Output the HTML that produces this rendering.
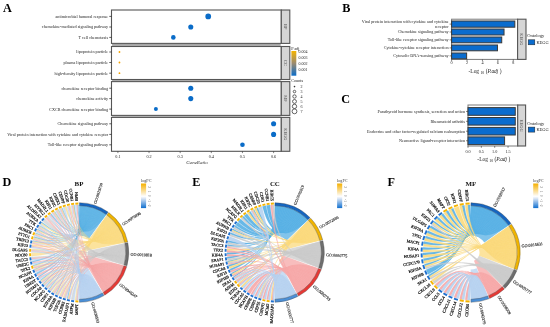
<!DOCTYPE html>
<html><head><meta charset="utf-8"><style>
html,body{margin:0;padding:0;background:#fff;overflow:hidden;width:550px;height:327px;}
svg{display:block;font-family:'Liberation Serif', serif;}
text.s{stroke:#111;stroke-width:0.2px;}
text.g{stroke:#222;stroke-width:0.12px;}
</style></head><body>
<svg width="550" height="327" viewBox="0 0 550 327">
<rect width="550" height="327" fill="#fff"/>
<text x="2.90" y="11.90" font-size="12.2" text-anchor="start" font-weight="bold" class="b" fill="#000" >A</text>
<rect x="111.5" y="10.0" width="169.8" height="33.4" fill="#fff" stroke="#555" stroke-width="1.1"/>
<rect x="281.3" y="10.0" width="8.5" height="33.4" fill="#d6d6d6" stroke="#555" stroke-width="1.1"/>
<text transform="translate(284.05,26.70) rotate(90)" font-size="4.4" text-anchor="middle" fill="#555" class="b">BP</text>
<line x1="109.3" y1="16.4" x2="111.5" y2="16.4" stroke="#333" stroke-width="0.8"/>
<text x="108.10" y="17.80" font-size="4.18" text-anchor="end" fill="#222" >antimicrobial humoral response</text>
<circle cx="208.21" cy="16.4" r="2.85" fill="#0a6cc8"/>
<line x1="109.3" y1="27.0" x2="111.5" y2="27.0" stroke="#333" stroke-width="0.8"/>
<text x="108.10" y="28.40" font-size="4.18" text-anchor="end" fill="#222" >chemokine-mediated signaling pathway</text>
<circle cx="190.77" cy="27.0" r="2.55" fill="#0a6cc8"/>
<line x1="109.3" y1="37.4" x2="111.5" y2="37.4" stroke="#333" stroke-width="0.8"/>
<text x="108.10" y="38.80" font-size="4.18" text-anchor="end" fill="#222" >T cell chemotaxis</text>
<circle cx="173.33" cy="37.4" r="2.3" fill="#0a6cc8"/>
<rect x="111.5" y="46.5" width="169.8" height="33.0" fill="#fff" stroke="#555" stroke-width="1.1"/>
<rect x="281.3" y="46.5" width="8.5" height="33.0" fill="#d6d6d6" stroke="#555" stroke-width="1.1"/>
<text transform="translate(284.05,63.00) rotate(90)" font-size="4.4" text-anchor="middle" fill="#555" class="b">CC</text>
<line x1="109.3" y1="52.0" x2="111.5" y2="52.0" stroke="#333" stroke-width="0.8"/>
<text x="108.10" y="53.40" font-size="4.18" text-anchor="end" fill="#222" >lipoprotein particle</text>
<circle cx="119.46" cy="52.0" r="0.9" fill="#f5a300"/>
<line x1="109.3" y1="62.5" x2="111.5" y2="62.5" stroke="#333" stroke-width="0.8"/>
<text x="108.10" y="63.90" font-size="4.18" text-anchor="end" fill="#222" >plasma lipoprotein particle</text>
<circle cx="119.46" cy="62.5" r="0.9" fill="#f5a300"/>
<line x1="109.3" y1="73.2" x2="111.5" y2="73.2" stroke="#333" stroke-width="0.8"/>
<text x="108.10" y="74.60" font-size="4.18" text-anchor="end" fill="#222" >high-density lipoprotein particle</text>
<circle cx="119.46" cy="73.2" r="0.9" fill="#f5a300"/>
<rect x="111.5" y="81.6" width="169.8" height="33.80000000000001" fill="#fff" stroke="#555" stroke-width="1.1"/>
<rect x="281.3" y="81.6" width="8.5" height="33.80000000000001" fill="#d6d6d6" stroke="#555" stroke-width="1.1"/>
<text transform="translate(284.05,98.50) rotate(90)" font-size="4.4" text-anchor="middle" fill="#555" class="b">MF</text>
<line x1="109.3" y1="88.2" x2="111.5" y2="88.2" stroke="#333" stroke-width="0.8"/>
<text x="108.10" y="89.60" font-size="4.18" text-anchor="end" fill="#222" >chemokine receptor binding</text>
<circle cx="190.77" cy="88.2" r="2.55" fill="#0a6cc8"/>
<line x1="109.3" y1="98.6" x2="111.5" y2="98.6" stroke="#333" stroke-width="0.8"/>
<text x="108.10" y="100.00" font-size="4.18" text-anchor="end" fill="#222" >chemokine activity</text>
<circle cx="190.77" cy="98.6" r="2.55" fill="#0a6cc8"/>
<line x1="109.3" y1="109.1" x2="111.5" y2="109.1" stroke="#333" stroke-width="0.8"/>
<text x="108.10" y="110.50" font-size="4.18" text-anchor="end" fill="#222" >CXCR chemokine receptor binding</text>
<circle cx="155.89" cy="109.1" r="2.0" fill="#0a6cc8"/>
<rect x="111.5" y="117.4" width="169.8" height="33.900000000000006" fill="#fff" stroke="#555" stroke-width="1.1"/>
<rect x="281.3" y="117.4" width="8.5" height="33.900000000000006" fill="#d6d6d6" stroke="#555" stroke-width="1.1"/>
<text transform="translate(284.05,134.35) rotate(90)" font-size="4.4" text-anchor="middle" fill="#555" class="b">KEGG</text>
<line x1="109.3" y1="123.8" x2="111.5" y2="123.8" stroke="#333" stroke-width="0.8"/>
<text x="108.10" y="125.20" font-size="4.18" text-anchor="end" fill="#222" >Chemokine signaling pathway</text>
<circle cx="273.60" cy="123.8" r="2.55" fill="#0a6cc8"/>
<line x1="109.3" y1="134.4" x2="111.5" y2="134.4" stroke="#333" stroke-width="0.8"/>
<text x="108.10" y="135.80" font-size="4.18" text-anchor="end" fill="#222" >Viral protein interaction with cytokine and cytokine receptor</text>
<circle cx="273.60" cy="134.4" r="2.55" fill="#0a6cc8"/>
<line x1="109.3" y1="144.8" x2="111.5" y2="144.8" stroke="#333" stroke-width="0.8"/>
<text x="108.10" y="146.20" font-size="4.18" text-anchor="end" fill="#222" >Toll-like receptor signaling pathway</text>
<circle cx="242.46" cy="144.8" r="2.3" fill="#0a6cc8"/>
<rect x="112.1" y="43.949999999999996" width="168.60000000000002" height="2.0000000000000013" fill="#a6a6a6"/>
<rect x="112.1" y="80.05" width="168.60000000000002" height="0.9999999999999942" fill="#a6a6a6"/>
<rect x="112.1" y="115.95" width="168.60000000000002" height="0.8999999999999999" fill="#a6a6a6"/>
<line x1="117.90" y1="151.3" x2="117.90" y2="153.1" stroke="#333" stroke-width="0.6"/>
<text x="117.90" y="158.00" font-size="4.2" text-anchor="middle" fill="#222" >0.1</text>
<line x1="149.04" y1="151.3" x2="149.04" y2="153.1" stroke="#333" stroke-width="0.6"/>
<text x="149.04" y="158.00" font-size="4.2" text-anchor="middle" fill="#222" >0.2</text>
<line x1="180.18" y1="151.3" x2="180.18" y2="153.1" stroke="#333" stroke-width="0.6"/>
<text x="180.18" y="158.00" font-size="4.2" text-anchor="middle" fill="#222" >0.3</text>
<line x1="211.32" y1="151.3" x2="211.32" y2="153.1" stroke="#333" stroke-width="0.6"/>
<text x="211.32" y="158.00" font-size="4.2" text-anchor="middle" fill="#222" >0.4</text>
<line x1="242.46" y1="151.3" x2="242.46" y2="153.1" stroke="#333" stroke-width="0.6"/>
<text x="242.46" y="158.00" font-size="4.2" text-anchor="middle" fill="#222" >0.5</text>
<line x1="273.60" y1="151.3" x2="273.60" y2="153.1" stroke="#333" stroke-width="0.6"/>
<text x="273.60" y="158.00" font-size="4.2" text-anchor="middle" fill="#222" >0.6</text>
<text x="197.00" y="163.90" font-size="5.0" text-anchor="middle" font-style="italic" fill="#333" >GeneRatio</text>
<defs><linearGradient id="padj" x1="0" y1="0" x2="0" y2="1"><stop offset="0" stop-color="#f5b400"/><stop offset="0.5" stop-color="#9a8a70"/><stop offset="1" stop-color="#0a6cc8"/></linearGradient><linearGradient id="lfc" x1="0" y1="0" x2="0" y2="1"><stop offset="0" stop-color="#f5b000"/><stop offset="0.45" stop-color="#fdf3dc"/><stop offset="0.52" stop-color="#ffffff"/><stop offset="0.6" stop-color="#dfe8f6"/><stop offset="1" stop-color="#0f6fcf"/></linearGradient></defs>
<text x="291.20" y="49.60" font-size="4.2" text-anchor="start" fill="#222" >P adj</text>
<rect x="291.4" y="51" width="4.9" height="24.7" fill="url(#padj)"/>
<text x="298.60" y="52.90" font-size="4.0" text-anchor="start" fill="#222" >0.004</text>
<text x="298.60" y="58.95" font-size="4.0" text-anchor="start" fill="#222" >0.003</text>
<text x="298.60" y="65.00" font-size="4.0" text-anchor="start" fill="#222" >0.002</text>
<text x="298.60" y="71.05" font-size="4.0" text-anchor="start" fill="#222" >0.001</text>
<text x="291.20" y="82.30" font-size="4.2" text-anchor="start" fill="#222" >Counts</text>
<circle cx="294.5" cy="86.60" r="0.8" fill="#333"/>
<text x="300.50" y="88.00" font-size="4.0" text-anchor="start" fill="#222" >2</text>
<circle cx="294.5" cy="91.55" r="1.27" fill="none" stroke="#333" stroke-width="0.75"/>
<text x="300.50" y="92.95" font-size="4.0" text-anchor="start" fill="#222" >3</text>
<circle cx="294.5" cy="96.50" r="1.70" fill="none" stroke="#333" stroke-width="0.75"/>
<text x="300.50" y="97.90" font-size="4.0" text-anchor="start" fill="#222" >4</text>
<circle cx="294.5" cy="101.45" r="1.95" fill="none" stroke="#333" stroke-width="0.75"/>
<text x="300.50" y="102.85" font-size="4.0" text-anchor="start" fill="#222" >5</text>
<circle cx="294.5" cy="106.40" r="2.17" fill="none" stroke="#333" stroke-width="0.75"/>
<text x="300.50" y="107.80" font-size="4.0" text-anchor="start" fill="#222" >6</text>
<circle cx="294.5" cy="111.35" r="2.42" fill="none" stroke="#333" stroke-width="0.75"/>
<text x="300.50" y="112.75" font-size="4.0" text-anchor="start" fill="#222" >7</text>
<text x="342.20" y="12.20" font-size="12.2" text-anchor="start" font-weight="bold" class="b" fill="#000" >B</text>
<rect x="451.6" y="19.2" width="66.0" height="40.2" fill="#fff" stroke="#7a7a7a" stroke-width="1.0"/>
<rect x="517.6" y="19.2" width="8.399999999999977" height="40.2" fill="#d6d6d6" stroke="#555" stroke-width="1.1"/>
<text transform="translate(520.30,39.30) rotate(90)" font-size="4.4" text-anchor="middle" fill="#555" class="b">KEGG</text>
<rect x="451.6" y="21.0" width="63.22" height="6.199999999999999" fill="#0a6cce" stroke="#3a3a3a" stroke-width="1.0"/>
<line x1="449.6" y1="24.1" x2="451.6" y2="24.1" stroke="#333" stroke-width="0.6"/>
<text x="448.60" y="23.30" font-size="4.2" text-anchor="end" fill="#222" >Viral protein interaction with cytokine and cytokine</text>
<text x="448.60" y="27.50" font-size="4.2" text-anchor="end" fill="#222" >receptor</text>
<rect x="451.6" y="29.0" width="52.43" height="6.0" fill="#0a6cce" stroke="#3a3a3a" stroke-width="1.0"/>
<line x1="449.6" y1="32.0" x2="451.6" y2="32.0" stroke="#333" stroke-width="0.6"/>
<text x="448.60" y="33.40" font-size="4.2" text-anchor="end" fill="#222" >Chemokine signaling pathway</text>
<rect x="451.6" y="37.0" width="50.12" height="5.799999999999997" fill="#0a6cce" stroke="#3a3a3a" stroke-width="1.0"/>
<line x1="449.6" y1="39.9" x2="451.6" y2="39.9" stroke="#333" stroke-width="0.6"/>
<text x="448.60" y="41.30" font-size="4.2" text-anchor="end" fill="#222" >Toll-like receptor signaling pathway</text>
<rect x="451.6" y="45.0" width="45.87" height="5.799999999999997" fill="#0a6cce" stroke="#3a3a3a" stroke-width="1.0"/>
<line x1="449.6" y1="47.9" x2="451.6" y2="47.9" stroke="#333" stroke-width="0.6"/>
<text x="448.60" y="49.30" font-size="4.2" text-anchor="end" fill="#222" >Cytokine-cytokine receptor interaction</text>
<rect x="451.6" y="53.0" width="15.03" height="5.799999999999997" fill="#0a6cce" stroke="#3a3a3a" stroke-width="1.0"/>
<line x1="449.6" y1="55.9" x2="451.6" y2="55.9" stroke="#333" stroke-width="0.6"/>
<text x="448.60" y="57.30" font-size="4.2" text-anchor="end" fill="#222" >Cytosolic DNA-sensing pathway</text>
<line x1="451.60" y1="59.4" x2="451.60" y2="61.199999999999996" stroke="#333" stroke-width="0.6"/>
<text x="451.60" y="64.40" font-size="4.2" text-anchor="middle" fill="#222" >0</text>
<line x1="467.02" y1="59.4" x2="467.02" y2="61.199999999999996" stroke="#333" stroke-width="0.6"/>
<text x="467.02" y="64.40" font-size="4.2" text-anchor="middle" fill="#222" >2</text>
<line x1="482.44" y1="59.4" x2="482.44" y2="61.199999999999996" stroke="#333" stroke-width="0.6"/>
<text x="482.44" y="64.40" font-size="4.2" text-anchor="middle" fill="#222" >4</text>
<line x1="497.86" y1="59.4" x2="497.86" y2="61.199999999999996" stroke="#333" stroke-width="0.6"/>
<text x="497.86" y="64.40" font-size="4.2" text-anchor="middle" fill="#222" >6</text>
<line x1="513.28" y1="59.4" x2="513.28" y2="61.199999999999996" stroke="#333" stroke-width="0.6"/>
<text x="513.28" y="64.40" font-size="4.2" text-anchor="middle" fill="#222" >8</text>
<text x="485.0" y="73.0" font-size="5.4" text-anchor="middle" fill="#222">-Log <tspan font-size="3.9" dy="1.4">10</tspan><tspan dy="-1.4"> (</tspan><tspan font-style="italic">P.adj</tspan> )</text>
<text x="527.20" y="37.20" font-size="4.5" text-anchor="start" fill="#222" >Ontology</text>
<rect x="528.2" y="39.800000000000004" width="6.6" height="5" fill="#0a6cce" stroke="#222" stroke-width="0.5"/>
<text x="536.40" y="43.90" font-size="4.4" text-anchor="start" fill="#222" >KEGG</text>
<text x="341.20" y="102.80" font-size="12.2" text-anchor="start" font-weight="bold" class="b" fill="#000" >C</text>
<rect x="468.0" y="105.0" width="49.700000000000045" height="41.0" fill="#fff" stroke="#7a7a7a" stroke-width="1.0"/>
<rect x="517.7" y="105.0" width="7.899999999999977" height="41.0" fill="#d6d6d6" stroke="#555" stroke-width="1.1"/>
<text transform="translate(520.15,125.50) rotate(90)" font-size="4.4" text-anchor="middle" fill="#555" class="b">KEGG</text>
<rect x="468.0" y="107.6" width="47.26" height="7.700000000000003" fill="#0a6cce" stroke="#3a3a3a" stroke-width="1.0"/>
<line x1="466.0" y1="111.44999999999999" x2="468.0" y2="111.44999999999999" stroke="#333" stroke-width="0.6"/>
<text x="465.00" y="112.85" font-size="4.2" text-anchor="end" fill="#222" >Parathyroid hormone synthesis, secretion and action</text>
<rect x="468.0" y="117.5" width="47.26" height="7.599999999999994" fill="#0a6cce" stroke="#3a3a3a" stroke-width="1.0"/>
<line x1="466.0" y1="121.3" x2="468.0" y2="121.3" stroke="#333" stroke-width="0.6"/>
<text x="465.00" y="122.70" font-size="4.2" text-anchor="end" fill="#222" >Rheumatoid arthritis</text>
<rect x="468.0" y="127.4" width="47.26" height="7.599999999999994" fill="#0a6cce" stroke="#3a3a3a" stroke-width="1.0"/>
<line x1="466.0" y1="131.2" x2="468.0" y2="131.2" stroke="#333" stroke-width="0.6"/>
<text x="465.00" y="132.60" font-size="4.2" text-anchor="end" fill="#222" >Endocrine and other factor-regulated calcium reabsorption</text>
<rect x="468.0" y="136.9" width="36.58" height="7.699999999999989" fill="#0a6cce" stroke="#3a3a3a" stroke-width="1.0"/>
<line x1="466.0" y1="140.75" x2="468.0" y2="140.75" stroke="#333" stroke-width="0.6"/>
<text x="465.00" y="142.15" font-size="4.2" text-anchor="end" fill="#222" >Neuroactive ligand-receptor interaction</text>
<line x1="468.00" y1="146.0" x2="468.00" y2="147.8" stroke="#333" stroke-width="0.6"/>
<text x="468.00" y="153.40" font-size="4.2" text-anchor="middle" fill="#222" >0.0</text>
<line x1="481.35" y1="146.0" x2="481.35" y2="147.8" stroke="#333" stroke-width="0.6"/>
<text x="481.35" y="153.40" font-size="4.2" text-anchor="middle" fill="#222" >0.5</text>
<line x1="494.70" y1="146.0" x2="494.70" y2="147.8" stroke="#333" stroke-width="0.6"/>
<text x="494.70" y="153.40" font-size="4.2" text-anchor="middle" fill="#222" >1.0</text>
<line x1="508.05" y1="146.0" x2="508.05" y2="147.8" stroke="#333" stroke-width="0.6"/>
<text x="508.05" y="153.40" font-size="4.2" text-anchor="middle" fill="#222" >1.5</text>
<text x="493.8" y="160.8" font-size="5.4" text-anchor="middle" fill="#222">-Log <tspan font-size="3.9" dy="1.4">10</tspan><tspan dy="-1.4"> (</tspan><tspan font-style="italic">P.adj</tspan> )</text>
<text x="527.20" y="124.50" font-size="4.5" text-anchor="start" fill="#222" >Ontology</text>
<rect x="528.2" y="127.1" width="6.6" height="5" fill="#0a6cce" stroke="#222" stroke-width="0.5"/>
<text x="536.40" y="131.20" font-size="4.4" text-anchor="start" fill="#222" >KEGG</text>
<text x="2.40" y="186.30" font-size="12.2" text-anchor="start" font-weight="bold" class="b" fill="#000" >D</text>
<text x="74.60" y="185.60" font-size="6.9" text-anchor="start" font-weight="bold" class="b" fill="#111" >BP</text>
<path d="M79.41,205.70 A46.8,46.8 0 0 1 106.31,214.49 L88.92,238.69 A17.0,17.0 0 0 0 79.15,235.50Z" fill="#58b0e4" fill-opacity="0.75"/>
<path d="M106.97,214.98 A46.8,46.8 0 0 1 124.73,242.53 L87.79,250.58 A9.0,9.0 0 0 0 84.38,245.28Z" fill="#fbd97c" fill-opacity="0.75"/>
<path d="M124.89,243.33 A46.8,46.8 0 0 1 124.12,264.93 L87.68,254.89 A9.0,9.0 0 0 0 87.83,250.74Z" fill="#cbcbcb" fill-opacity="0.75"/>
<path d="M123.90,265.71 A46.8,46.8 0 0 1 103.17,292.57 L83.65,260.21 A9.0,9.0 0 0 0 87.63,255.04Z" fill="#f6a7a7" fill-opacity="0.75"/>
<path d="M102.47,292.99 A46.8,46.8 0 0 1 79.41,299.30 L79.15,269.50 A17.0,17.0 0 0 0 87.53,267.21Z" fill="#b6d1f0" fill-opacity="0.75"/>
<path d="M67.04,298.57 Q79.00,252.50 80.66,205.73 A46.80,46.80 0 0 0 79.41,205.70 Q79.00,252.50 67.87,298.78 A47.60,47.60 0 0 1 67.04,298.57Z" fill="#58b0e4" fill-opacity="0.65" stroke="#58b0e4" stroke-opacity="0.65" stroke-width="0.3"/>
<path d="M55.52,293.91 Q79.00,252.50 81.91,205.79 A46.80,46.80 0 0 0 80.66,205.73 Q79.00,252.50 56.12,294.24 A47.60,47.60 0 0 1 55.52,293.91Z" fill="#58b0e4" fill-opacity="0.65" stroke="#58b0e4" stroke-opacity="0.65" stroke-width="0.3"/>
<path d="M48.69,289.20 Q79.00,252.50 83.15,205.88 A46.80,46.80 0 0 0 81.91,205.79 Q79.00,252.50 49.22,289.63 A47.60,47.60 0 0 1 48.69,289.20Z" fill="#58b0e4" fill-opacity="0.65" stroke="#58b0e4" stroke-opacity="0.65" stroke-width="0.3"/>
<path d="M45.61,286.42 Q79.00,252.50 84.40,206.01 A46.80,46.80 0 0 0 83.15,205.88 Q79.00,252.50 46.10,286.90 A47.60,47.60 0 0 1 45.61,286.42Z" fill="#58b0e4" fill-opacity="0.65" stroke="#58b0e4" stroke-opacity="0.65" stroke-width="0.3"/>
<path d="M42.78,283.38 Q79.00,252.50 85.64,206.17 A46.80,46.80 0 0 0 84.40,206.01 Q79.00,252.50 43.22,283.90 A47.60,47.60 0 0 1 42.78,283.38Z" fill="#58b0e4" fill-opacity="0.65" stroke="#58b0e4" stroke-opacity="0.65" stroke-width="0.3"/>
<path d="M40.22,280.11 Q79.00,252.50 86.87,206.37 A46.80,46.80 0 0 0 85.64,206.17 Q79.00,252.50 40.72,280.80 A47.60,47.60 0 0 1 40.22,280.11Z" fill="#58b0e4" fill-opacity="0.65" stroke="#58b0e4" stroke-opacity="0.65" stroke-width="0.3"/>
<path d="M37.97,276.62 Q79.00,252.50 88.10,206.59 A46.80,46.80 0 0 0 86.87,206.37 Q79.00,252.50 38.55,277.59 A47.60,47.60 0 0 1 37.97,276.62Z" fill="#58b0e4" fill-opacity="0.65" stroke="#58b0e4" stroke-opacity="0.65" stroke-width="0.3"/>
<path d="M36.02,272.95 Q79.00,252.50 89.32,206.85 A46.80,46.80 0 0 0 88.10,206.59 Q79.00,252.50 36.78,274.48 A47.60,47.60 0 0 1 36.02,272.95Z" fill="#58b0e4" fill-opacity="0.65" stroke="#58b0e4" stroke-opacity="0.65" stroke-width="0.3"/>
<path d="M34.40,269.13 Q79.00,252.50 90.54,207.14 A46.80,46.80 0 0 0 89.32,206.85 Q79.00,252.50 34.64,269.77 A47.60,47.60 0 0 1 34.40,269.13Z" fill="#58b0e4" fill-opacity="0.65" stroke="#58b0e4" stroke-opacity="0.65" stroke-width="0.3"/>
<path d="M33.12,265.18 Q79.00,252.50 91.75,207.47 A46.80,46.80 0 0 0 90.54,207.14 Q79.00,252.50 33.35,266.00 A47.60,47.60 0 0 1 33.12,265.18Z" fill="#58b0e4" fill-opacity="0.65" stroke="#58b0e4" stroke-opacity="0.65" stroke-width="0.3"/>
<path d="M32.19,261.13 Q79.00,252.50 92.94,207.83 A46.80,46.80 0 0 0 91.75,207.47 Q79.00,252.50 32.41,262.25 A47.60,47.60 0 0 1 32.19,261.13Z" fill="#58b0e4" fill-opacity="0.65" stroke="#58b0e4" stroke-opacity="0.65" stroke-width="0.3"/>
<path d="M32.93,240.54 Q79.00,252.50 94.13,208.21 A46.80,46.80 0 0 0 92.94,207.83 Q79.00,252.50 32.72,241.37 A47.60,47.60 0 0 1 32.93,240.54Z" fill="#58b0e4" fill-opacity="0.65" stroke="#58b0e4" stroke-opacity="0.65" stroke-width="0.3"/>
<path d="M34.14,236.57 Q79.00,252.50 95.31,208.63 A46.80,46.80 0 0 0 94.13,208.21 Q79.00,252.50 33.87,237.38 A47.60,47.60 0 0 1 34.14,236.57Z" fill="#58b0e4" fill-opacity="0.65" stroke="#58b0e4" stroke-opacity="0.65" stroke-width="0.3"/>
<path d="M35.70,232.72 Q79.00,252.50 96.48,209.09 A46.80,46.80 0 0 0 95.31,208.63 Q79.00,252.50 35.36,233.50 A47.60,47.60 0 0 1 35.70,232.72Z" fill="#58b0e4" fill-opacity="0.65" stroke="#58b0e4" stroke-opacity="0.65" stroke-width="0.3"/>
<path d="M37.59,229.02 Q79.00,252.50 97.63,209.57 A46.80,46.80 0 0 0 96.48,209.09 Q79.00,252.50 37.18,229.77 A47.60,47.60 0 0 1 37.59,229.02Z" fill="#58b0e4" fill-opacity="0.65" stroke="#58b0e4" stroke-opacity="0.65" stroke-width="0.3"/>
<path d="M39.80,225.50 Q79.00,252.50 98.77,210.08 A46.80,46.80 0 0 0 97.63,209.57 Q79.00,252.50 39.41,226.07 A47.60,47.60 0 0 1 39.80,225.50Z" fill="#58b0e4" fill-opacity="0.65" stroke="#58b0e4" stroke-opacity="0.65" stroke-width="0.3"/>
<path d="M42.30,222.19 Q79.00,252.50 99.89,210.62 A46.80,46.80 0 0 0 98.77,210.08 Q79.00,252.50 41.58,223.07 A47.60,47.60 0 0 1 42.30,222.19Z" fill="#58b0e4" fill-opacity="0.65" stroke="#58b0e4" stroke-opacity="0.65" stroke-width="0.3"/>
<path d="M51.39,213.72 Q79.00,252.50 101.01,211.20 A46.80,46.80 0 0 0 99.89,210.62 Q79.00,252.50 50.48,214.39 A47.60,47.60 0 0 1 51.39,213.72Z" fill="#58b0e4" fill-opacity="0.65" stroke="#58b0e4" stroke-opacity="0.65" stroke-width="0.3"/>
<path d="M54.88,211.47 Q79.00,252.50 102.10,211.80 A46.80,46.80 0 0 0 101.01,211.20 Q79.00,252.50 54.29,211.81 A47.60,47.60 0 0 1 54.88,211.47Z" fill="#58b0e4" fill-opacity="0.65" stroke="#58b0e4" stroke-opacity="0.65" stroke-width="0.3"/>
<path d="M58.55,209.52 Q79.00,252.50 103.18,212.43 A46.80,46.80 0 0 0 102.10,211.80 Q79.00,252.50 57.93,209.82 A47.60,47.60 0 0 1 58.55,209.52Z" fill="#58b0e4" fill-opacity="0.65" stroke="#58b0e4" stroke-opacity="0.65" stroke-width="0.3"/>
<path d="M62.37,207.90 Q79.00,252.50 104.24,213.09 A46.80,46.80 0 0 0 103.18,212.43 Q79.00,252.50 61.57,208.20 A47.60,47.60 0 0 1 62.37,207.90Z" fill="#58b0e4" fill-opacity="0.65" stroke="#58b0e4" stroke-opacity="0.65" stroke-width="0.3"/>
<path d="M74.48,205.12 Q79.00,252.50 105.28,213.78 A46.80,46.80 0 0 0 104.24,213.09 Q79.00,252.50 73.63,205.20 A47.60,47.60 0 0 1 74.48,205.12Z" fill="#58b0e4" fill-opacity="0.65" stroke="#58b0e4" stroke-opacity="0.65" stroke-width="0.3"/>
<path d="M78.63,204.90 Q79.00,252.50 106.31,214.49 A46.80,46.80 0 0 0 105.28,213.78 Q79.00,252.50 77.49,204.92 A47.60,47.60 0 0 1 78.63,204.90Z" fill="#58b0e4" fill-opacity="0.65" stroke="#58b0e4" stroke-opacity="0.65" stroke-width="0.3"/>
<path d="M75.22,299.95 Q79.00,252.50 107.95,215.73 A46.80,46.80 0 0 0 106.97,214.98 Q79.00,252.50 76.07,300.01 A47.60,47.60 0 0 1 75.22,299.95Z" fill="#fbd97c" fill-opacity="0.65" stroke="#fbd97c" stroke-opacity="0.65" stroke-width="0.3"/>
<path d="M67.87,298.78 Q79.00,252.50 108.92,216.51 A46.80,46.80 0 0 0 107.95,215.73 Q79.00,252.50 68.70,298.97 A47.60,47.60 0 0 1 67.87,298.78Z" fill="#fbd97c" fill-opacity="0.65" stroke="#fbd97c" stroke-opacity="0.65" stroke-width="0.3"/>
<path d="M63.07,297.36 Q79.00,252.50 109.86,217.32 A46.80,46.80 0 0 0 108.92,216.51 Q79.00,252.50 63.88,297.63 A47.60,47.60 0 0 1 63.07,297.36Z" fill="#fbd97c" fill-opacity="0.65" stroke="#fbd97c" stroke-opacity="0.65" stroke-width="0.3"/>
<path d="M59.22,295.80 Q79.00,252.50 110.78,218.15 A46.80,46.80 0 0 0 109.86,217.32 Q79.00,252.50 60.26,296.26 A47.60,47.60 0 0 1 59.22,295.80Z" fill="#fbd97c" fill-opacity="0.65" stroke="#fbd97c" stroke-opacity="0.65" stroke-width="0.3"/>
<path d="M56.12,294.24 Q79.00,252.50 111.68,219.00 A46.80,46.80 0 0 0 110.78,218.15 Q79.00,252.50 56.72,294.56 A47.60,47.60 0 0 1 56.12,294.24Z" fill="#fbd97c" fill-opacity="0.65" stroke="#fbd97c" stroke-opacity="0.65" stroke-width="0.3"/>
<path d="M52.00,291.70 Q79.00,252.50 112.56,219.88 A46.80,46.80 0 0 0 111.68,219.00 Q79.00,252.50 52.95,292.34 A47.60,47.60 0 0 1 52.00,291.70Z" fill="#fbd97c" fill-opacity="0.65" stroke="#fbd97c" stroke-opacity="0.65" stroke-width="0.3"/>
<path d="M49.22,289.63 Q79.00,252.50 113.41,220.78 A46.80,46.80 0 0 0 112.56,219.88 Q79.00,252.50 49.75,290.06 A47.60,47.60 0 0 1 49.22,289.63Z" fill="#fbd97c" fill-opacity="0.65" stroke="#fbd97c" stroke-opacity="0.65" stroke-width="0.3"/>
<path d="M46.10,286.90 Q79.00,252.50 114.24,221.70 A46.80,46.80 0 0 0 113.41,220.78 Q79.00,252.50 46.59,287.36 A47.60,47.60 0 0 1 46.10,286.90Z" fill="#fbd97c" fill-opacity="0.65" stroke="#fbd97c" stroke-opacity="0.65" stroke-width="0.3"/>
<path d="M43.22,283.90 Q79.00,252.50 115.04,222.65 A46.80,46.80 0 0 0 114.24,221.70 Q79.00,252.50 43.68,284.41 A47.60,47.60 0 0 1 43.22,283.90Z" fill="#fbd97c" fill-opacity="0.65" stroke="#fbd97c" stroke-opacity="0.65" stroke-width="0.3"/>
<path d="M40.72,280.80 Q79.00,252.50 115.82,223.61 A46.80,46.80 0 0 0 115.04,222.65 Q79.00,252.50 41.24,281.48 A47.60,47.60 0 0 1 40.72,280.80Z" fill="#fbd97c" fill-opacity="0.65" stroke="#fbd97c" stroke-opacity="0.65" stroke-width="0.3"/>
<path d="M34.64,269.77 Q79.00,252.50 116.57,224.60 A46.80,46.80 0 0 0 115.82,223.61 Q79.00,252.50 34.89,270.40 A47.60,47.60 0 0 1 34.64,269.77Z" fill="#fbd97c" fill-opacity="0.65" stroke="#fbd97c" stroke-opacity="0.65" stroke-width="0.3"/>
<path d="M33.35,266.00 Q79.00,252.50 117.30,225.60 A46.80,46.80 0 0 0 116.57,224.60 Q79.00,252.50 33.60,266.81 A47.60,47.60 0 0 1 33.35,266.00Z" fill="#fbd97c" fill-opacity="0.65" stroke="#fbd97c" stroke-opacity="0.65" stroke-width="0.3"/>
<path d="M31.40,252.87 Q79.00,252.50 118.00,226.63 A46.80,46.80 0 0 0 117.30,225.60 Q79.00,252.50 31.55,256.28 A47.60,47.60 0 0 1 31.40,252.87Z" fill="#fbd97c" fill-opacity="0.65" stroke="#fbd97c" stroke-opacity="0.65" stroke-width="0.3"/>
<path d="M31.55,248.72 Q79.00,252.50 118.67,227.67 A46.80,46.80 0 0 0 118.00,226.63 Q79.00,252.50 31.49,249.57 A47.60,47.60 0 0 1 31.55,248.72Z" fill="#fbd97c" fill-opacity="0.65" stroke="#fbd97c" stroke-opacity="0.65" stroke-width="0.3"/>
<path d="M32.06,244.60 Q79.00,252.50 119.32,228.73 A46.80,46.80 0 0 0 118.67,227.67 Q79.00,252.50 31.88,245.72 A47.60,47.60 0 0 1 32.06,244.60Z" fill="#fbd97c" fill-opacity="0.65" stroke="#fbd97c" stroke-opacity="0.65" stroke-width="0.3"/>
<path d="M32.72,241.37 Q79.00,252.50 119.93,229.81 A46.80,46.80 0 0 0 119.32,228.73 Q79.00,252.50 32.53,242.20 A47.60,47.60 0 0 1 32.72,241.37Z" fill="#fbd97c" fill-opacity="0.65" stroke="#fbd97c" stroke-opacity="0.65" stroke-width="0.3"/>
<path d="M33.87,237.38 Q79.00,252.50 120.52,230.90 A46.80,46.80 0 0 0 119.93,229.81 Q79.00,252.50 33.60,238.19 A47.60,47.60 0 0 1 33.87,237.38Z" fill="#fbd97c" fill-opacity="0.65" stroke="#fbd97c" stroke-opacity="0.65" stroke-width="0.3"/>
<path d="M35.36,233.50 Q79.00,252.50 121.08,232.01 A46.80,46.80 0 0 0 120.52,230.90 Q79.00,252.50 35.02,234.28 A47.60,47.60 0 0 1 35.36,233.50Z" fill="#fbd97c" fill-opacity="0.65" stroke="#fbd97c" stroke-opacity="0.65" stroke-width="0.3"/>
<path d="M37.18,229.77 Q79.00,252.50 121.60,233.13 A46.80,46.80 0 0 0 121.08,232.01 Q79.00,252.50 36.78,230.52 A47.60,47.60 0 0 1 37.18,229.77Z" fill="#fbd97c" fill-opacity="0.65" stroke="#fbd97c" stroke-opacity="0.65" stroke-width="0.3"/>
<path d="M39.41,226.07 Q79.00,252.50 122.10,234.27 A46.80,46.80 0 0 0 121.60,233.13 Q79.00,252.50 39.04,226.64 A47.60,47.60 0 0 1 39.41,226.07Z" fill="#fbd97c" fill-opacity="0.65" stroke="#fbd97c" stroke-opacity="0.65" stroke-width="0.3"/>
<path d="M41.58,223.07 Q79.00,252.50 122.57,235.42 A46.80,46.80 0 0 0 122.10,234.27 Q79.00,252.50 40.89,223.98 A47.60,47.60 0 0 1 41.58,223.07Z" fill="#fbd97c" fill-opacity="0.65" stroke="#fbd97c" stroke-opacity="0.65" stroke-width="0.3"/>
<path d="M54.29,211.81 Q79.00,252.50 123.01,236.58 A46.80,46.80 0 0 0 122.57,235.42 Q79.00,252.50 53.71,212.17 A47.60,47.60 0 0 1 54.29,211.81Z" fill="#fbd97c" fill-opacity="0.65" stroke="#fbd97c" stroke-opacity="0.65" stroke-width="0.3"/>
<path d="M57.93,209.82 Q79.00,252.50 123.41,237.75 A46.80,46.80 0 0 0 123.01,236.58 Q79.00,252.50 57.32,210.12 A47.60,47.60 0 0 1 57.93,209.82Z" fill="#fbd97c" fill-opacity="0.65" stroke="#fbd97c" stroke-opacity="0.65" stroke-width="0.3"/>
<path d="M61.57,208.20 Q79.00,252.50 123.79,238.93 A46.80,46.80 0 0 0 123.41,237.75 Q79.00,252.50 60.78,208.52 A47.60,47.60 0 0 1 61.57,208.20Z" fill="#fbd97c" fill-opacity="0.65" stroke="#fbd97c" stroke-opacity="0.65" stroke-width="0.3"/>
<path d="M66.32,206.62 Q79.00,252.50 124.13,240.12 A46.80,46.80 0 0 0 123.79,238.93 Q79.00,252.50 64.69,207.10 A47.60,47.60 0 0 1 66.32,206.62Z" fill="#fbd97c" fill-opacity="0.65" stroke="#fbd97c" stroke-opacity="0.65" stroke-width="0.3"/>
<path d="M70.37,205.69 Q79.00,252.50 124.45,241.32 A46.80,46.80 0 0 0 124.13,240.12 Q79.00,252.50 69.25,205.91 A47.60,47.60 0 0 1 70.37,205.69Z" fill="#fbd97c" fill-opacity="0.65" stroke="#fbd97c" stroke-opacity="0.65" stroke-width="0.3"/>
<path d="M73.63,205.20 Q79.00,252.50 124.73,242.53 A46.80,46.80 0 0 0 124.45,241.32 Q79.00,252.50 72.79,205.31 A47.60,47.60 0 0 1 73.63,205.20Z" fill="#fbd97c" fill-opacity="0.65" stroke="#fbd97c" stroke-opacity="0.65" stroke-width="0.3"/>
<path d="M76.07,300.01 Q79.00,252.50 125.08,244.35 A46.80,46.80 0 0 0 124.89,243.33 Q79.00,252.50 76.92,300.05 A47.60,47.60 0 0 1 76.07,300.01Z" fill="#cbcbcb" fill-opacity="0.65" stroke="#cbcbcb" stroke-opacity="0.65" stroke-width="0.3"/>
<path d="M71.10,299.44 Q79.00,252.50 125.25,245.37 A46.80,46.80 0 0 0 125.08,244.35 Q79.00,252.50 72.79,299.69 A47.60,47.60 0 0 1 71.10,299.44Z" fill="#cbcbcb" fill-opacity="0.65" stroke="#cbcbcb" stroke-opacity="0.65" stroke-width="0.3"/>
<path d="M63.88,297.63 Q79.00,252.50 125.40,246.40 A46.80,46.80 0 0 0 125.25,245.37 Q79.00,252.50 64.69,297.90 A47.60,47.60 0 0 1 63.88,297.63Z" fill="#cbcbcb" fill-opacity="0.65" stroke="#cbcbcb" stroke-opacity="0.65" stroke-width="0.3"/>
<path d="M60.26,296.26 Q79.00,252.50 125.53,247.43 A46.80,46.80 0 0 0 125.40,246.40 Q79.00,252.50 61.31,296.69 A47.60,47.60 0 0 1 60.26,296.26Z" fill="#cbcbcb" fill-opacity="0.65" stroke="#cbcbcb" stroke-opacity="0.65" stroke-width="0.3"/>
<path d="M56.72,294.56 Q79.00,252.50 125.63,248.47 A46.80,46.80 0 0 0 125.53,247.43 Q79.00,252.50 57.32,294.88 A47.60,47.60 0 0 1 56.72,294.56Z" fill="#cbcbcb" fill-opacity="0.65" stroke="#cbcbcb" stroke-opacity="0.65" stroke-width="0.3"/>
<path d="M52.95,292.34 Q79.00,252.50 125.70,249.50 A46.80,46.80 0 0 0 125.63,248.47 Q79.00,252.50 53.91,292.95 A47.60,47.60 0 0 1 52.95,292.34Z" fill="#cbcbcb" fill-opacity="0.65" stroke="#cbcbcb" stroke-opacity="0.65" stroke-width="0.3"/>
<path d="M49.75,290.06 Q79.00,252.50 125.76,250.54 A46.80,46.80 0 0 0 125.70,249.50 Q79.00,252.50 50.29,290.47 A47.60,47.60 0 0 1 49.75,290.06Z" fill="#cbcbcb" fill-opacity="0.65" stroke="#cbcbcb" stroke-opacity="0.65" stroke-width="0.3"/>
<path d="M46.59,287.36 Q79.00,252.50 125.79,251.58 A46.80,46.80 0 0 0 125.76,250.54 Q79.00,252.50 47.09,287.82 A47.60,47.60 0 0 1 46.59,287.36Z" fill="#cbcbcb" fill-opacity="0.65" stroke="#cbcbcb" stroke-opacity="0.65" stroke-width="0.3"/>
<path d="M43.68,284.41 Q79.00,252.50 125.80,252.62 A46.80,46.80 0 0 0 125.79,251.58 Q79.00,252.50 44.14,284.91 A47.60,47.60 0 0 1 43.68,284.41Z" fill="#cbcbcb" fill-opacity="0.65" stroke="#cbcbcb" stroke-opacity="0.65" stroke-width="0.3"/>
<path d="M41.24,281.48 Q79.00,252.50 125.79,253.66 A46.80,46.80 0 0 0 125.80,252.62 Q79.00,252.50 41.76,282.15 A47.60,47.60 0 0 1 41.24,281.48Z" fill="#cbcbcb" fill-opacity="0.65" stroke="#cbcbcb" stroke-opacity="0.65" stroke-width="0.3"/>
<path d="M34.89,270.40 Q79.00,252.50 125.75,254.69 A46.80,46.80 0 0 0 125.79,253.66 Q79.00,252.50 35.15,271.03 A47.60,47.60 0 0 1 34.89,270.40Z" fill="#cbcbcb" fill-opacity="0.65" stroke="#cbcbcb" stroke-opacity="0.65" stroke-width="0.3"/>
<path d="M33.60,266.81 Q79.00,252.50 125.69,255.73 A46.80,46.80 0 0 0 125.75,254.69 Q79.00,252.50 33.87,267.62 A47.60,47.60 0 0 1 33.60,266.81Z" fill="#cbcbcb" fill-opacity="0.65" stroke="#cbcbcb" stroke-opacity="0.65" stroke-width="0.3"/>
<path d="M31.62,257.02 Q79.00,252.50 125.61,256.76 A46.80,46.80 0 0 0 125.69,255.73 Q79.00,252.50 31.74,258.15 A47.60,47.60 0 0 1 31.62,257.02Z" fill="#cbcbcb" fill-opacity="0.65" stroke="#cbcbcb" stroke-opacity="0.65" stroke-width="0.3"/>
<path d="M31.49,249.57 Q79.00,252.50 125.50,257.80 A46.80,46.80 0 0 0 125.61,256.76 Q79.00,252.50 31.45,250.42 A47.60,47.60 0 0 1 31.49,249.57Z" fill="#cbcbcb" fill-opacity="0.65" stroke="#cbcbcb" stroke-opacity="0.65" stroke-width="0.3"/>
<path d="M32.53,242.20 Q79.00,252.50 125.37,258.83 A46.80,46.80 0 0 0 125.50,257.80 Q79.00,252.50 32.35,243.03 A47.60,47.60 0 0 1 32.53,242.20Z" fill="#cbcbcb" fill-opacity="0.65" stroke="#cbcbcb" stroke-opacity="0.65" stroke-width="0.3"/>
<path d="M33.60,238.19 Q79.00,252.50 125.22,259.86 A46.80,46.80 0 0 0 125.37,258.83 Q79.00,252.50 33.35,239.00 A47.60,47.60 0 0 1 33.60,238.19Z" fill="#cbcbcb" fill-opacity="0.65" stroke="#cbcbcb" stroke-opacity="0.65" stroke-width="0.3"/>
<path d="M39.04,226.64 Q79.00,252.50 125.04,260.88 A46.80,46.80 0 0 0 125.22,259.86 Q79.00,252.50 38.67,227.21 A47.60,47.60 0 0 1 39.04,226.64Z" fill="#cbcbcb" fill-opacity="0.65" stroke="#cbcbcb" stroke-opacity="0.65" stroke-width="0.3"/>
<path d="M45.08,219.11 Q79.00,252.50 124.85,261.90 A46.80,46.80 0 0 0 125.04,260.88 Q79.00,252.50 42.78,221.62 A47.60,47.60 0 0 1 45.08,219.11Z" fill="#cbcbcb" fill-opacity="0.65" stroke="#cbcbcb" stroke-opacity="0.65" stroke-width="0.3"/>
<path d="M48.12,216.28 Q79.00,252.50 124.63,262.91 A46.80,46.80 0 0 0 124.85,261.90 Q79.00,252.50 46.84,217.41 A47.60,47.60 0 0 1 48.12,216.28Z" fill="#cbcbcb" fill-opacity="0.65" stroke="#cbcbcb" stroke-opacity="0.65" stroke-width="0.3"/>
<path d="M53.71,212.17 Q79.00,252.50 124.38,263.92 A46.80,46.80 0 0 0 124.63,262.91 Q79.00,252.50 53.14,212.54 A47.60,47.60 0 0 1 53.71,212.17Z" fill="#cbcbcb" fill-opacity="0.65" stroke="#cbcbcb" stroke-opacity="0.65" stroke-width="0.3"/>
<path d="M57.32,210.12 Q79.00,252.50 124.12,264.93 A46.80,46.80 0 0 0 124.38,263.92 Q79.00,252.50 56.72,210.44 A47.60,47.60 0 0 1 57.32,210.12Z" fill="#cbcbcb" fill-opacity="0.65" stroke="#cbcbcb" stroke-opacity="0.65" stroke-width="0.3"/>
<path d="M76.92,300.05 Q79.00,252.50 123.57,266.78 A46.80,46.80 0 0 0 123.90,265.71 Q79.00,252.50 77.77,300.08 A47.60,47.60 0 0 1 76.92,300.05Z" fill="#f6a7a7" fill-opacity="0.65" stroke="#f6a7a7" stroke-opacity="0.65" stroke-width="0.3"/>
<path d="M68.70,298.97 Q79.00,252.50 123.21,267.85 A46.80,46.80 0 0 0 123.57,266.78 Q79.00,252.50 69.53,299.15 A47.60,47.60 0 0 1 68.70,298.97Z" fill="#f6a7a7" fill-opacity="0.65" stroke="#f6a7a7" stroke-opacity="0.65" stroke-width="0.3"/>
<path d="M64.69,297.90 Q79.00,252.50 122.83,268.90 A46.80,46.80 0 0 0 123.21,267.85 Q79.00,252.50 65.50,298.15 A47.60,47.60 0 0 1 64.69,297.90Z" fill="#f6a7a7" fill-opacity="0.65" stroke="#f6a7a7" stroke-opacity="0.65" stroke-width="0.3"/>
<path d="M61.31,296.69 Q79.00,252.50 122.43,269.94 A46.80,46.80 0 0 0 122.83,268.90 Q79.00,252.50 62.37,297.10 A47.60,47.60 0 0 1 61.31,296.69Z" fill="#f6a7a7" fill-opacity="0.65" stroke="#f6a7a7" stroke-opacity="0.65" stroke-width="0.3"/>
<path d="M57.32,294.88 Q79.00,252.50 122.00,270.98 A46.80,46.80 0 0 0 122.43,269.94 Q79.00,252.50 57.93,295.18 A47.60,47.60 0 0 1 57.32,294.88Z" fill="#f6a7a7" fill-opacity="0.65" stroke="#f6a7a7" stroke-opacity="0.65" stroke-width="0.3"/>
<path d="M53.91,292.95 Q79.00,252.50 121.54,272.00 A46.80,46.80 0 0 0 122.00,270.98 Q79.00,252.50 54.88,293.53 A47.60,47.60 0 0 1 53.91,292.95Z" fill="#f6a7a7" fill-opacity="0.65" stroke="#f6a7a7" stroke-opacity="0.65" stroke-width="0.3"/>
<path d="M50.29,290.47 Q79.00,252.50 121.06,273.01 A46.80,46.80 0 0 0 121.54,272.00 Q79.00,252.50 50.84,290.88 A47.60,47.60 0 0 1 50.29,290.47Z" fill="#f6a7a7" fill-opacity="0.65" stroke="#f6a7a7" stroke-opacity="0.65" stroke-width="0.3"/>
<path d="M47.09,287.82 Q79.00,252.50 120.56,274.01 A46.80,46.80 0 0 0 121.06,273.01 Q79.00,252.50 47.60,288.28 A47.60,47.60 0 0 1 47.09,287.82Z" fill="#f6a7a7" fill-opacity="0.65" stroke="#f6a7a7" stroke-opacity="0.65" stroke-width="0.3"/>
<path d="M44.14,284.91 Q79.00,252.50 120.04,275.00 A46.80,46.80 0 0 0 120.56,274.01 Q79.00,252.50 44.60,285.40 A47.60,47.60 0 0 1 44.14,284.91Z" fill="#f6a7a7" fill-opacity="0.65" stroke="#f6a7a7" stroke-opacity="0.65" stroke-width="0.3"/>
<path d="M41.76,282.15 Q79.00,252.50 119.49,275.98 A46.80,46.80 0 0 0 120.04,275.00 Q79.00,252.50 42.30,282.81 A47.60,47.60 0 0 1 41.76,282.15Z" fill="#f6a7a7" fill-opacity="0.65" stroke="#f6a7a7" stroke-opacity="0.65" stroke-width="0.3"/>
<path d="M38.55,277.59 Q79.00,252.50 118.91,276.94 A46.80,46.80 0 0 0 119.49,275.98 Q79.00,252.50 39.16,278.55 A47.60,47.60 0 0 1 38.55,277.59Z" fill="#f6a7a7" fill-opacity="0.65" stroke="#f6a7a7" stroke-opacity="0.65" stroke-width="0.3"/>
<path d="M36.78,274.48 Q79.00,252.50 118.32,277.89 A46.80,46.80 0 0 0 118.91,276.94 Q79.00,252.50 37.59,275.98 A47.60,47.60 0 0 1 36.78,274.48Z" fill="#f6a7a7" fill-opacity="0.65" stroke="#f6a7a7" stroke-opacity="0.65" stroke-width="0.3"/>
<path d="M35.15,271.03 Q79.00,252.50 117.70,278.82 A46.80,46.80 0 0 0 118.32,277.89 Q79.00,252.50 35.42,271.66 A47.60,47.60 0 0 1 35.15,271.03Z" fill="#f6a7a7" fill-opacity="0.65" stroke="#f6a7a7" stroke-opacity="0.65" stroke-width="0.3"/>
<path d="M33.87,267.62 Q79.00,252.50 117.06,279.74 A46.80,46.80 0 0 0 117.70,278.82 Q79.00,252.50 34.14,268.43 A47.60,47.60 0 0 1 33.87,267.62Z" fill="#f6a7a7" fill-opacity="0.65" stroke="#f6a7a7" stroke-opacity="0.65" stroke-width="0.3"/>
<path d="M32.41,262.25 Q79.00,252.50 116.39,280.64 A46.80,46.80 0 0 0 117.06,279.74 Q79.00,252.50 32.65,263.36 A47.60,47.60 0 0 1 32.41,262.25Z" fill="#f6a7a7" fill-opacity="0.65" stroke="#f6a7a7" stroke-opacity="0.65" stroke-width="0.3"/>
<path d="M31.74,258.15 Q79.00,252.50 115.71,281.53 A46.80,46.80 0 0 0 116.39,280.64 Q79.00,252.50 31.88,259.28 A47.60,47.60 0 0 1 31.74,258.15Z" fill="#f6a7a7" fill-opacity="0.65" stroke="#f6a7a7" stroke-opacity="0.65" stroke-width="0.3"/>
<path d="M31.45,250.42 Q79.00,252.50 115.00,282.40 A46.80,46.80 0 0 0 115.71,281.53 Q79.00,252.50 31.42,251.27 A47.60,47.60 0 0 1 31.45,250.42Z" fill="#f6a7a7" fill-opacity="0.65" stroke="#f6a7a7" stroke-opacity="0.65" stroke-width="0.3"/>
<path d="M31.88,245.72 Q79.00,252.50 114.28,283.25 A46.80,46.80 0 0 0 115.00,282.40 Q79.00,252.50 31.74,246.85 A47.60,47.60 0 0 1 31.88,245.72Z" fill="#f6a7a7" fill-opacity="0.65" stroke="#f6a7a7" stroke-opacity="0.65" stroke-width="0.3"/>
<path d="M32.35,243.03 Q79.00,252.50 113.53,284.09 A46.80,46.80 0 0 0 114.28,283.25 Q79.00,252.50 32.19,243.87 A47.60,47.60 0 0 1 32.35,243.03Z" fill="#f6a7a7" fill-opacity="0.65" stroke="#f6a7a7" stroke-opacity="0.65" stroke-width="0.3"/>
<path d="M33.35,239.00 Q79.00,252.50 112.77,284.90 A46.80,46.80 0 0 0 113.53,284.09 Q79.00,252.50 33.12,239.82 A47.60,47.60 0 0 1 33.35,239.00Z" fill="#f6a7a7" fill-opacity="0.65" stroke="#f6a7a7" stroke-opacity="0.65" stroke-width="0.3"/>
<path d="M35.02,234.28 Q79.00,252.50 111.98,285.70 A46.80,46.80 0 0 0 112.77,284.90 Q79.00,252.50 34.70,235.07 A47.60,47.60 0 0 1 35.02,234.28Z" fill="#f6a7a7" fill-opacity="0.65" stroke="#f6a7a7" stroke-opacity="0.65" stroke-width="0.3"/>
<path d="M36.78,230.52 Q79.00,252.50 111.18,286.48 A46.80,46.80 0 0 0 111.98,285.70 Q79.00,252.50 36.39,231.28 A47.60,47.60 0 0 1 36.78,230.52Z" fill="#f6a7a7" fill-opacity="0.65" stroke="#f6a7a7" stroke-opacity="0.65" stroke-width="0.3"/>
<path d="M38.67,227.21 Q79.00,252.50 110.36,287.24 A46.80,46.80 0 0 0 111.18,286.48 Q79.00,252.50 38.31,227.79 A47.60,47.60 0 0 1 38.67,227.21Z" fill="#f6a7a7" fill-opacity="0.65" stroke="#f6a7a7" stroke-opacity="0.65" stroke-width="0.3"/>
<path d="M46.84,217.41 Q79.00,252.50 109.52,287.98 A46.80,46.80 0 0 0 110.36,287.24 Q79.00,252.50 45.61,218.58 A47.60,47.60 0 0 1 46.84,217.41Z" fill="#f6a7a7" fill-opacity="0.65" stroke="#f6a7a7" stroke-opacity="0.65" stroke-width="0.3"/>
<path d="M50.48,214.39 Q79.00,252.50 108.66,288.70 A46.80,46.80 0 0 0 109.52,287.98 Q79.00,252.50 49.57,215.08 A47.60,47.60 0 0 1 50.48,214.39Z" fill="#f6a7a7" fill-opacity="0.65" stroke="#f6a7a7" stroke-opacity="0.65" stroke-width="0.3"/>
<path d="M53.14,212.54 Q79.00,252.50 107.78,289.40 A46.80,46.80 0 0 0 108.66,288.70 Q79.00,252.50 52.57,212.91 A47.60,47.60 0 0 1 53.14,212.54Z" fill="#f6a7a7" fill-opacity="0.65" stroke="#f6a7a7" stroke-opacity="0.65" stroke-width="0.3"/>
<path d="M56.72,210.44 Q79.00,252.50 106.89,290.08 A46.80,46.80 0 0 0 107.78,289.40 Q79.00,252.50 56.12,210.76 A47.60,47.60 0 0 1 56.72,210.44Z" fill="#f6a7a7" fill-opacity="0.65" stroke="#f6a7a7" stroke-opacity="0.65" stroke-width="0.3"/>
<path d="M60.78,208.52 Q79.00,252.50 105.99,290.74 A46.80,46.80 0 0 0 106.89,290.08 Q79.00,252.50 60.00,208.86 A47.60,47.60 0 0 1 60.78,208.52Z" fill="#f6a7a7" fill-opacity="0.65" stroke="#f6a7a7" stroke-opacity="0.65" stroke-width="0.3"/>
<path d="M69.25,205.91 Q79.00,252.50 105.06,291.37 A46.80,46.80 0 0 0 105.99,290.74 Q79.00,252.50 68.14,206.15 A47.60,47.60 0 0 1 69.25,205.91Z" fill="#f6a7a7" fill-opacity="0.65" stroke="#f6a7a7" stroke-opacity="0.65" stroke-width="0.3"/>
<path d="M72.79,205.31 Q79.00,252.50 104.13,291.98 A46.80,46.80 0 0 0 105.06,291.37 Q79.00,252.50 71.94,205.43 A47.60,47.60 0 0 1 72.79,205.31Z" fill="#f6a7a7" fill-opacity="0.65" stroke="#f6a7a7" stroke-opacity="0.65" stroke-width="0.3"/>
<path d="M77.49,204.92 Q79.00,252.50 103.17,292.57 A46.80,46.80 0 0 0 104.13,291.98 Q79.00,252.50 76.36,204.97 A47.60,47.60 0 0 1 77.49,204.92Z" fill="#f6a7a7" fill-opacity="0.65" stroke="#f6a7a7" stroke-opacity="0.65" stroke-width="0.3"/>
<path d="M77.77,300.08 Q79.00,252.50 101.66,293.45 A46.80,46.80 0 0 0 102.47,292.99 Q79.00,252.50 78.63,300.10 A47.60,47.60 0 0 1 77.77,300.08Z" fill="#b6d1f0" fill-opacity="0.65" stroke="#b6d1f0" stroke-opacity="0.65" stroke-width="0.3"/>
<path d="M72.79,299.69 Q79.00,252.50 100.84,293.89 A46.80,46.80 0 0 0 101.66,293.45 Q79.00,252.50 74.48,299.88 A47.60,47.60 0 0 1 72.79,299.69Z" fill="#b6d1f0" fill-opacity="0.65" stroke="#b6d1f0" stroke-opacity="0.65" stroke-width="0.3"/>
<path d="M69.53,299.15 Q79.00,252.50 100.02,294.32 A46.80,46.80 0 0 0 100.84,293.89 Q79.00,252.50 70.37,299.31 A47.60,47.60 0 0 1 69.53,299.15Z" fill="#b6d1f0" fill-opacity="0.65" stroke="#b6d1f0" stroke-opacity="0.65" stroke-width="0.3"/>
<path d="M65.50,298.15 Q79.00,252.50 99.18,294.72 A46.80,46.80 0 0 0 100.02,294.32 Q79.00,252.50 66.32,298.38 A47.60,47.60 0 0 1 65.50,298.15Z" fill="#b6d1f0" fill-opacity="0.65" stroke="#b6d1f0" stroke-opacity="0.65" stroke-width="0.3"/>
<path d="M57.93,295.18 Q79.00,252.50 98.34,295.12 A46.80,46.80 0 0 0 99.18,294.72 Q79.00,252.50 58.55,295.48 A47.60,47.60 0 0 1 57.93,295.18Z" fill="#b6d1f0" fill-opacity="0.65" stroke="#b6d1f0" stroke-opacity="0.65" stroke-width="0.3"/>
<path d="M50.84,290.88 Q79.00,252.50 97.49,295.49 A46.80,46.80 0 0 0 98.34,295.12 Q79.00,252.50 51.39,291.28 A47.60,47.60 0 0 1 50.84,290.88Z" fill="#b6d1f0" fill-opacity="0.65" stroke="#b6d1f0" stroke-opacity="0.65" stroke-width="0.3"/>
<path d="M47.60,288.28 Q79.00,252.50 96.63,295.85 A46.80,46.80 0 0 0 97.49,295.49 Q79.00,252.50 48.12,288.72 A47.60,47.60 0 0 1 47.60,288.28Z" fill="#b6d1f0" fill-opacity="0.65" stroke="#b6d1f0" stroke-opacity="0.65" stroke-width="0.3"/>
<path d="M44.60,285.40 Q79.00,252.50 95.77,296.19 A46.80,46.80 0 0 0 96.63,295.85 Q79.00,252.50 45.08,285.89 A47.60,47.60 0 0 1 44.60,285.40Z" fill="#b6d1f0" fill-opacity="0.65" stroke="#b6d1f0" stroke-opacity="0.65" stroke-width="0.3"/>
<path d="M39.16,278.55 Q79.00,252.50 94.89,296.52 A46.80,46.80 0 0 0 95.77,296.19 Q79.00,252.50 39.80,279.50 A47.60,47.60 0 0 1 39.16,278.55Z" fill="#b6d1f0" fill-opacity="0.65" stroke="#b6d1f0" stroke-opacity="0.65" stroke-width="0.3"/>
<path d="M35.42,271.66 Q79.00,252.50 94.02,296.83 A46.80,46.80 0 0 0 94.89,296.52 Q79.00,252.50 35.70,272.28 A47.60,47.60 0 0 1 35.42,271.66Z" fill="#b6d1f0" fill-opacity="0.65" stroke="#b6d1f0" stroke-opacity="0.65" stroke-width="0.3"/>
<path d="M32.65,263.36 Q79.00,252.50 93.13,297.12 A46.80,46.80 0 0 0 94.02,296.83 Q79.00,252.50 32.93,264.46 A47.60,47.60 0 0 1 32.65,263.36Z" fill="#b6d1f0" fill-opacity="0.65" stroke="#b6d1f0" stroke-opacity="0.65" stroke-width="0.3"/>
<path d="M31.88,259.28 Q79.00,252.50 92.24,297.39 A46.80,46.80 0 0 0 93.13,297.12 Q79.00,252.50 32.06,260.40 A47.60,47.60 0 0 1 31.88,259.28Z" fill="#b6d1f0" fill-opacity="0.65" stroke="#b6d1f0" stroke-opacity="0.65" stroke-width="0.3"/>
<path d="M31.42,251.27 Q79.00,252.50 91.35,297.64 A46.80,46.80 0 0 0 92.24,297.39 Q79.00,252.50 31.40,252.13 A47.60,47.60 0 0 1 31.42,251.27Z" fill="#b6d1f0" fill-opacity="0.65" stroke="#b6d1f0" stroke-opacity="0.65" stroke-width="0.3"/>
<path d="M31.74,246.85 Q79.00,252.50 90.45,297.88 A46.80,46.80 0 0 0 91.35,297.64 Q79.00,252.50 31.62,247.98 A47.60,47.60 0 0 1 31.74,246.85Z" fill="#b6d1f0" fill-opacity="0.65" stroke="#b6d1f0" stroke-opacity="0.65" stroke-width="0.3"/>
<path d="M34.70,235.07 Q79.00,252.50 89.55,298.10 A46.80,46.80 0 0 0 90.45,297.88 Q79.00,252.50 34.40,235.87 A47.60,47.60 0 0 1 34.70,235.07Z" fill="#b6d1f0" fill-opacity="0.65" stroke="#b6d1f0" stroke-opacity="0.65" stroke-width="0.3"/>
<path d="M36.39,231.28 Q79.00,252.50 88.64,298.30 A46.80,46.80 0 0 0 89.55,298.10 Q79.00,252.50 36.02,232.05 A47.60,47.60 0 0 1 36.39,231.28Z" fill="#b6d1f0" fill-opacity="0.65" stroke="#b6d1f0" stroke-opacity="0.65" stroke-width="0.3"/>
<path d="M38.31,227.79 Q79.00,252.50 87.73,298.48 A46.80,46.80 0 0 0 88.64,298.30 Q79.00,252.50 37.97,228.38 A47.60,47.60 0 0 1 38.31,227.79Z" fill="#b6d1f0" fill-opacity="0.65" stroke="#b6d1f0" stroke-opacity="0.65" stroke-width="0.3"/>
<path d="M40.89,223.98 Q79.00,252.50 86.81,298.64 A46.80,46.80 0 0 0 87.73,298.48 Q79.00,252.50 40.22,224.89 A47.60,47.60 0 0 1 40.89,223.98Z" fill="#b6d1f0" fill-opacity="0.65" stroke="#b6d1f0" stroke-opacity="0.65" stroke-width="0.3"/>
<path d="M49.57,215.08 Q79.00,252.50 85.89,298.79 A46.80,46.80 0 0 0 86.81,298.64 Q79.00,252.50 48.69,215.80 A47.60,47.60 0 0 1 49.57,215.08Z" fill="#b6d1f0" fill-opacity="0.65" stroke="#b6d1f0" stroke-opacity="0.65" stroke-width="0.3"/>
<path d="M52.57,212.91 Q79.00,252.50 84.97,298.92 A46.80,46.80 0 0 0 85.89,298.79 Q79.00,252.50 52.00,213.30 A47.60,47.60 0 0 1 52.57,212.91Z" fill="#b6d1f0" fill-opacity="0.65" stroke="#b6d1f0" stroke-opacity="0.65" stroke-width="0.3"/>
<path d="M56.12,210.76 Q79.00,252.50 84.05,299.03 A46.80,46.80 0 0 0 84.97,298.92 Q79.00,252.50 55.52,211.09 A47.60,47.60 0 0 1 56.12,210.76Z" fill="#b6d1f0" fill-opacity="0.65" stroke="#b6d1f0" stroke-opacity="0.65" stroke-width="0.3"/>
<path d="M60.00,208.86 Q79.00,252.50 83.12,299.12 A46.80,46.80 0 0 0 84.05,299.03 Q79.00,252.50 59.22,209.20 A47.60,47.60 0 0 1 60.00,208.86Z" fill="#b6d1f0" fill-opacity="0.65" stroke="#b6d1f0" stroke-opacity="0.65" stroke-width="0.3"/>
<path d="M64.69,207.10 Q79.00,252.50 82.20,299.19 A46.80,46.80 0 0 0 83.12,299.12 Q79.00,252.50 63.07,207.64 A47.60,47.60 0 0 1 64.69,207.10Z" fill="#b6d1f0" fill-opacity="0.65" stroke="#b6d1f0" stroke-opacity="0.65" stroke-width="0.3"/>
<path d="M68.14,206.15 Q79.00,252.50 81.27,299.25 A46.80,46.80 0 0 0 82.20,299.19 Q79.00,252.50 67.04,206.43 A47.60,47.60 0 0 1 68.14,206.15Z" fill="#b6d1f0" fill-opacity="0.65" stroke="#b6d1f0" stroke-opacity="0.65" stroke-width="0.3"/>
<path d="M71.94,205.43 Q79.00,252.50 80.34,299.28 A46.80,46.80 0 0 0 81.27,299.25 Q79.00,252.50 71.10,205.56 A47.60,47.60 0 0 1 71.94,205.43Z" fill="#b6d1f0" fill-opacity="0.65" stroke="#b6d1f0" stroke-opacity="0.65" stroke-width="0.3"/>
<path d="M76.36,204.97 Q79.00,252.50 79.41,299.30 A46.80,46.80 0 0 0 80.34,299.28 Q79.00,252.50 75.22,205.05 A47.60,47.60 0 0 1 76.36,204.97Z" fill="#b6d1f0" fill-opacity="0.65" stroke="#b6d1f0" stroke-opacity="0.65" stroke-width="0.3"/>
<path d="M79.43,202.70 A49.8,49.8 0 0 1 108.06,212.06 L106.31,214.49 A46.8,46.8 0 0 0 79.41,205.70Z" fill="#1565c0" stroke="#444" stroke-width="0.35"/>
<text transform="translate(79.0,252.5) rotate(-71.90)" x="51.60" y="1.4" font-size="4.1" fill="#222" class="g">GO:0019730</text>
<path d="M108.76,212.57 A49.8,49.8 0 0 1 127.66,241.89 L124.73,242.53 A46.8,46.8 0 0 0 106.97,214.98Z" fill="#f0b400" stroke="#444" stroke-width="0.35"/>
<text transform="translate(79.0,252.5) rotate(-32.80)" x="51.60" y="1.4" font-size="4.1" fill="#222" class="g">GO:0070098</text>
<path d="M127.83,242.74 A49.8,49.8 0 0 1 127.01,265.72 L124.12,264.93 A46.8,46.8 0 0 0 124.89,243.33Z" fill="#6e6e6e" stroke="#444" stroke-width="0.35"/>
<text transform="translate(79.0,252.5) rotate(2.05)" x="51.60" y="1.4" font-size="4.1" fill="#222" class="g">GO:0010818</text>
<path d="M126.77,266.56 A49.8,49.8 0 0 1 104.72,295.14 L103.17,292.57 A46.8,46.8 0 0 0 123.90,265.71Z" fill="#e53935" stroke="#444" stroke-width="0.35"/>
<text transform="translate(79.0,252.5) rotate(37.65)" x="51.60" y="1.4" font-size="4.1" fill="#222" class="g">GO:0048247</text>
<path d="M103.98,295.58 A49.8,49.8 0 0 1 79.43,302.30 L79.41,299.30 A46.8,46.8 0 0 0 102.47,292.99Z" fill="#4b8fd6" stroke="#444" stroke-width="0.35"/>
<text transform="translate(79.0,252.5) rotate(74.70)" x="51.60" y="1.4" font-size="4.1" fill="#222" class="g">GO:0030593</text>
<path d="M78.35,202.60 L75.30,202.74 L75.44,204.63 L78.37,204.50Z" fill="#f5b400"/>
<text transform="translate(79.0,252.5) rotate(87.50)" x="-51.50" y="1.35" font-size="4.0" text-anchor="end" fill="#111" class="s">NMB</text>
<path d="M74.00,202.85 L70.98,203.25 L71.28,205.12 L74.19,204.74Z" fill="#f5b400"/>
<text transform="translate(79.0,252.5) rotate(82.50)" x="-51.50" y="1.35" font-size="4.0" text-anchor="end" fill="#111" class="s">CCNB1</text>
<path d="M69.69,203.48 L66.72,204.14 L67.18,205.98 L70.05,205.34Z" fill="#f5b400"/>
<text transform="translate(79.0,252.5) rotate(77.50)" x="-51.50" y="1.35" font-size="4.0" text-anchor="end" fill="#111" class="s">CDC20</text>
<path d="M65.46,204.47 L62.55,205.39 L63.17,207.18 L65.97,206.30Z" fill="#f5b400"/>
<text transform="translate(79.0,252.5) rotate(72.50)" x="-51.50" y="1.35" font-size="4.0" text-anchor="end" fill="#111" class="s">CENPF</text>
<path d="M61.32,205.84 L58.51,207.00 L59.29,208.74 L61.99,207.61Z" fill="#f5b400"/>
<text transform="translate(79.0,252.5) rotate(67.50)" x="-51.50" y="1.35" font-size="4.0" text-anchor="end" fill="#111" class="s">CHEK1</text>
<path d="M57.32,207.56 L54.62,208.96 L55.55,210.62 L58.15,209.27Z" fill="#f5b400"/>
<text transform="translate(79.0,252.5) rotate(62.50)" x="-51.50" y="1.35" font-size="4.0" text-anchor="end" fill="#111" class="s">KIF2C</text>
<path d="M53.49,209.62 L50.92,211.25 L51.99,212.82 L54.46,211.25Z" fill="#f5b400"/>
<text transform="translate(79.0,252.5) rotate(57.50)" x="-51.50" y="1.35" font-size="4.0" text-anchor="end" fill="#111" class="s">KIF11</text>
<path d="M49.85,212.00 L47.43,213.86 L48.63,215.33 L50.96,213.54Z" fill="#f5b400"/>
<text transform="translate(79.0,252.5) rotate(52.50)" x="-51.50" y="1.35" font-size="4.0" text-anchor="end" fill="#111" class="s">MAD2L1</text>
<path d="M46.43,214.70 L44.18,216.76 L45.51,218.12 L47.67,216.14Z" fill="#f5b400"/>
<text transform="translate(79.0,252.5) rotate(47.50)" x="-51.50" y="1.35" font-size="4.0" text-anchor="end" fill="#111" class="s">MYBL2</text>
<path d="M43.26,217.68 L41.20,219.93 L42.64,221.17 L44.62,219.01Z" fill="#1f70cf"/>
<text transform="translate(79.0,252.5) rotate(42.50)" x="-51.50" y="1.35" font-size="4.0" text-anchor="end" fill="#111" class="s">ALDH1A1</text>
<path d="M40.36,220.93 L38.50,223.35 L40.04,224.46 L41.83,222.13Z" fill="#1f70cf"/>
<text transform="translate(79.0,252.5) rotate(37.50)" x="-51.50" y="1.35" font-size="4.0" text-anchor="end" fill="#111" class="s">AURKA</text>
<path d="M37.75,224.42 L36.12,226.99 L37.75,227.96 L39.32,225.49Z" fill="#1f70cf"/>
<text transform="translate(79.0,252.5) rotate(32.50)" x="-51.50" y="1.35" font-size="4.0" text-anchor="end" fill="#111" class="s">TTK</text>
<path d="M35.46,228.12 L34.06,230.82 L35.77,231.65 L37.12,229.05Z" fill="#1f70cf"/>
<text transform="translate(79.0,252.5) rotate(27.50)" x="-51.50" y="1.35" font-size="4.0" text-anchor="end" fill="#111" class="s">PRC1</text>
<path d="M33.50,232.01 L32.34,234.82 L34.11,235.49 L35.24,232.79Z" fill="#f5b400"/>
<text transform="translate(79.0,252.5) rotate(22.50)" x="-51.50" y="1.35" font-size="4.0" text-anchor="end" fill="#111" class="s">AURKB</text>
<path d="M31.89,236.05 L30.97,238.96 L32.80,239.47 L33.68,236.67Z" fill="#f5b400"/>
<text transform="translate(79.0,252.5) rotate(17.50)" x="-51.50" y="1.35" font-size="4.0" text-anchor="end" fill="#111" class="s">PTTG1</text>
<path d="M30.64,240.22 L29.98,243.19 L31.84,243.55 L32.48,240.68Z" fill="#1f70cf"/>
<text transform="translate(79.0,252.5) rotate(12.50)" x="-51.50" y="1.35" font-size="4.0" text-anchor="end" fill="#111" class="s">TRIP13</text>
<path d="M29.75,244.48 L29.35,247.50 L31.24,247.69 L31.62,244.78Z" fill="#1f70cf"/>
<text transform="translate(79.0,252.5) rotate(7.50)" x="-51.50" y="1.35" font-size="4.0" text-anchor="end" fill="#111" class="s">KIF23</text>
<path d="M29.24,248.80 L29.10,251.85 L31.00,251.87 L31.13,248.94Z" fill="#f5b400"/>
<text transform="translate(79.0,252.5) rotate(2.50)" x="-51.50" y="1.35" font-size="4.0" text-anchor="end" fill="#111" class="s">DLGAP5</text>
<path d="M29.10,253.15 L29.24,256.20 L31.13,256.06 L31.00,253.13Z" fill="#f5b400"/>
<text transform="translate(79.0,252.5) rotate(-2.50)" x="-51.50" y="1.35" font-size="4.0" text-anchor="end" fill="#111" class="s">NDC80</text>
<path d="M29.35,257.50 L29.75,260.52 L31.62,260.22 L31.24,257.31Z" fill="#1f70cf"/>
<text transform="translate(79.0,252.5) rotate(-7.50)" x="-51.50" y="1.35" font-size="4.0" text-anchor="end" fill="#111" class="s">TACC3</text>
<path d="M29.98,261.81 L30.64,264.78 L32.48,264.32 L31.84,261.45Z" fill="#1f70cf"/>
<text transform="translate(79.0,252.5) rotate(-12.50)" x="-51.50" y="1.35" font-size="4.0" text-anchor="end" fill="#111" class="s">UBE2C</text>
<path d="M30.97,266.04 L31.89,268.95 L33.68,268.33 L32.80,265.53Z" fill="#f5b400"/>
<text transform="translate(79.0,252.5) rotate(-17.50)" x="-51.50" y="1.35" font-size="4.0" text-anchor="end" fill="#111" class="s">TPX2</text>
<path d="M32.34,270.18 L33.50,272.99 L35.24,272.21 L34.11,269.51Z" fill="#1f70cf"/>
<text transform="translate(79.0,252.5) rotate(-22.50)" x="-51.50" y="1.35" font-size="4.0" text-anchor="end" fill="#111" class="s">NCAPH</text>
<path d="M34.06,274.18 L35.46,276.88 L37.12,275.95 L35.77,273.35Z" fill="#1f70cf"/>
<text transform="translate(79.0,252.5) rotate(-27.50)" x="-51.50" y="1.35" font-size="4.0" text-anchor="end" fill="#111" class="s">KIF4A</text>
<path d="M36.12,278.01 L37.75,280.58 L39.32,279.51 L37.75,277.04Z" fill="#1f70cf"/>
<text transform="translate(79.0,252.5) rotate(-32.50)" x="-51.50" y="1.35" font-size="4.0" text-anchor="end" fill="#111" class="s">UBE2T</text>
<path d="M38.50,281.65 L40.36,284.07 L41.83,282.87 L40.04,280.54Z" fill="#1f70cf"/>
<text transform="translate(79.0,252.5) rotate(-37.50)" x="-51.50" y="1.35" font-size="4.0" text-anchor="end" fill="#111" class="s">NUSAP1</text>
<path d="M41.20,285.07 L43.26,287.32 L44.62,285.99 L42.64,283.83Z" fill="#1f70cf"/>
<text transform="translate(79.0,252.5) rotate(-42.50)" x="-51.50" y="1.35" font-size="4.0" text-anchor="end" fill="#111" class="s">CDCA8</text>
<path d="M44.18,288.24 L46.43,290.30 L47.67,288.86 L45.51,286.88Z" fill="#1f70cf"/>
<text transform="translate(79.0,252.5) rotate(-47.50)" x="-51.50" y="1.35" font-size="4.0" text-anchor="end" fill="#111" class="s">NCAPG</text>
<path d="M47.43,291.14 L49.85,293.00 L50.96,291.46 L48.63,289.67Z" fill="#1f70cf"/>
<text transform="translate(79.0,252.5) rotate(-52.50)" x="-51.50" y="1.35" font-size="4.0" text-anchor="end" fill="#111" class="s">CDK1</text>
<path d="M50.92,293.75 L53.49,295.38 L54.46,293.75 L51.99,292.18Z" fill="#1f70cf"/>
<text transform="translate(79.0,252.5) rotate(-57.50)" x="-51.50" y="1.35" font-size="4.0" text-anchor="end" fill="#111" class="s">KIF18A</text>
<path d="M54.62,296.04 L57.32,297.44 L58.15,295.73 L55.55,294.38Z" fill="#1f70cf"/>
<text transform="translate(79.0,252.5) rotate(-62.50)" x="-51.50" y="1.35" font-size="4.0" text-anchor="end" fill="#111" class="s">KIF18B</text>
<path d="M58.51,298.00 L61.32,299.16 L61.99,297.39 L59.29,296.26Z" fill="#1f70cf"/>
<text transform="translate(79.0,252.5) rotate(-67.50)" x="-51.50" y="1.35" font-size="4.0" text-anchor="end" fill="#111" class="s">TOP2A</text>
<path d="M62.55,299.61 L65.46,300.53 L65.97,298.70 L63.17,297.82Z" fill="#1f70cf"/>
<text transform="translate(79.0,252.5) rotate(-72.50)" x="-51.50" y="1.35" font-size="4.0" text-anchor="end" fill="#111" class="s">CCNB2</text>
<path d="M66.72,300.86 L69.69,301.52 L70.05,299.66 L67.18,299.02Z" fill="#1f70cf"/>
<text transform="translate(79.0,252.5) rotate(-77.50)" x="-51.50" y="1.35" font-size="4.0" text-anchor="end" fill="#111" class="s">RAD51AP1</text>
<path d="M70.98,301.75 L74.00,302.15 L74.19,300.26 L71.28,299.88Z" fill="#1f70cf"/>
<text transform="translate(79.0,252.5) rotate(-82.50)" x="-51.50" y="1.35" font-size="4.0" text-anchor="end" fill="#111" class="s">ASPM</text>
<path d="M75.30,302.26 L78.35,302.40 L78.37,300.50 L75.44,300.37Z" fill="#f5b400"/>
<text transform="translate(79.0,252.5) rotate(-87.50)" x="-51.50" y="1.35" font-size="4.0" text-anchor="end" fill="#111" class="s">MAPT</text>
<text x="141.00" y="182.00" font-size="4.2" text-anchor="start" fill="#333" >logFC</text>
<rect x="141.0" y="183.5" width="5.1" height="24.6" fill="url(#lfc)"/>
<text transform="translate(148.00,187.00) rotate(90)" font-size="3.4" text-anchor="middle" fill="#666">2</text>
<text transform="translate(148.00,191.50) rotate(90)" font-size="3.4" text-anchor="middle" fill="#666">1</text>
<text transform="translate(148.00,196.00) rotate(90)" font-size="3.4" text-anchor="middle" fill="#666">0</text>
<text transform="translate(148.00,200.50) rotate(90)" font-size="3.4" text-anchor="middle" fill="#666">-1</text>
<text transform="translate(148.00,205.00) rotate(90)" font-size="3.4" text-anchor="middle" fill="#666">-2</text>
<text x="192.30" y="186.30" font-size="12.2" text-anchor="start" font-weight="bold" class="b" fill="#000" >E</text>
<text x="269.90" y="185.60" font-size="6.9" text-anchor="start" font-weight="bold" class="b" fill="#111" >CC</text>
<path d="M274.91,205.70 A46.8,46.8 0 0 1 307.94,219.76 L286.65,240.61 A17.0,17.0 0 0 0 274.65,235.50Z" fill="#58b0e4" fill-opacity="0.75"/>
<path d="M308.50,220.34 A46.8,46.8 0 0 1 319.77,240.62 L283.21,250.22 A9.0,9.0 0 0 0 281.04,246.32Z" fill="#fbd97c" fill-opacity="0.75"/>
<path d="M319.97,241.42 A46.8,46.8 0 0 1 318.75,267.74 L283.01,255.43 A9.0,9.0 0 0 0 283.24,250.37Z" fill="#cbcbcb" fill-opacity="0.75"/>
<path d="M318.48,268.51 A46.8,46.8 0 0 1 297.12,293.47 L278.85,260.38 A9.0,9.0 0 0 0 282.96,255.58Z" fill="#f6a7a7" fill-opacity="0.75"/>
<path d="M296.40,293.86 A46.8,46.8 0 0 1 274.91,299.30 L274.65,269.50 A17.0,17.0 0 0 0 282.45,267.52Z" fill="#b6d1f0" fill-opacity="0.75"/>
<path d="M233.43,276.57 Q274.50,252.50 276.66,205.75 A46.80,46.80 0 0 0 274.91,205.70 Q274.50,252.50 233.89,277.33 A47.60,47.60 0 0 1 233.43,276.57Z" fill="#58b0e4" fill-opacity="0.9" stroke="#58b0e4" stroke-opacity="0.9" stroke-width="0.3"/>
<path d="M231.49,272.90 Q274.50,252.50 278.41,205.86 A46.80,46.80 0 0 0 276.66,205.75 Q274.50,252.50 232.01,273.96 A47.60,47.60 0 0 1 231.49,272.90Z" fill="#58b0e4" fill-opacity="0.9" stroke="#58b0e4" stroke-opacity="0.9" stroke-width="0.3"/>
<path d="M229.88,269.07 Q274.50,252.50 280.16,206.04 A46.80,46.80 0 0 0 278.41,205.86 Q274.50,252.50 230.52,270.72 A47.60,47.60 0 0 1 229.88,269.07Z" fill="#58b0e4" fill-opacity="0.9" stroke="#58b0e4" stroke-opacity="0.9" stroke-width="0.3"/>
<path d="M228.60,265.12 Q274.50,252.50 281.89,206.29 A46.80,46.80 0 0 0 280.16,206.04 Q274.50,252.50 229.10,266.81 A47.60,47.60 0 0 1 228.60,265.12Z" fill="#58b0e4" fill-opacity="0.9" stroke="#58b0e4" stroke-opacity="0.9" stroke-width="0.3"/>
<path d="M227.68,261.07 Q274.50,252.50 283.62,206.60 A46.80,46.80 0 0 0 281.89,206.29 Q274.50,252.50 227.85,261.94 A47.60,47.60 0 0 1 227.68,261.07Z" fill="#58b0e4" fill-opacity="0.9" stroke="#58b0e4" stroke-opacity="0.9" stroke-width="0.3"/>
<path d="M227.11,256.96 Q274.50,252.50 285.33,206.97 A46.80,46.80 0 0 0 283.62,206.60 Q274.50,252.50 227.31,258.71 A47.60,47.60 0 0 1 227.11,256.96Z" fill="#58b0e4" fill-opacity="0.9" stroke="#58b0e4" stroke-opacity="0.9" stroke-width="0.3"/>
<path d="M226.90,252.81 Q274.50,252.50 287.03,207.41 A46.80,46.80 0 0 0 285.33,206.97 Q274.50,252.50 226.95,254.58 A47.60,47.60 0 0 1 226.90,252.81Z" fill="#58b0e4" fill-opacity="0.9" stroke="#58b0e4" stroke-opacity="0.9" stroke-width="0.3"/>
<path d="M227.57,244.54 Q274.50,252.50 288.71,207.91 A46.80,46.80 0 0 0 287.03,207.41 Q274.50,252.50 227.39,245.70 A47.60,47.60 0 0 1 227.57,244.54Z" fill="#58b0e4" fill-opacity="0.9" stroke="#58b0e4" stroke-opacity="0.9" stroke-width="0.3"/>
<path d="M228.44,240.48 Q274.50,252.50 290.37,208.47 A46.80,46.80 0 0 0 288.71,207.91 Q274.50,252.50 228.03,242.20 A47.60,47.60 0 0 1 228.44,240.48Z" fill="#58b0e4" fill-opacity="0.9" stroke="#58b0e4" stroke-opacity="0.9" stroke-width="0.3"/>
<path d="M231.23,232.67 Q274.50,252.50 292.01,209.10 A46.80,46.80 0 0 0 290.37,208.47 Q274.50,252.50 230.52,234.28 A47.60,47.60 0 0 1 231.23,232.67Z" fill="#58b0e4" fill-opacity="0.9" stroke="#58b0e4" stroke-opacity="0.9" stroke-width="0.3"/>
<path d="M233.12,228.97 Q274.50,252.50 293.63,209.79 A46.80,46.80 0 0 0 292.01,209.10 Q274.50,252.50 232.55,230.00 A47.60,47.60 0 0 1 233.12,228.97Z" fill="#58b0e4" fill-opacity="0.9" stroke="#58b0e4" stroke-opacity="0.9" stroke-width="0.3"/>
<path d="M235.33,225.45 Q274.50,252.50 295.21,210.53 A46.80,46.80 0 0 0 293.63,209.79 Q274.50,252.50 234.35,226.92 A47.60,47.60 0 0 1 235.33,225.45Z" fill="#58b0e4" fill-opacity="0.9" stroke="#58b0e4" stroke-opacity="0.9" stroke-width="0.3"/>
<path d="M237.84,222.14 Q274.50,252.50 296.77,211.34 A46.80,46.80 0 0 0 295.21,210.53 Q274.50,252.50 235.69,224.94 A47.60,47.60 0 0 1 237.84,222.14Z" fill="#58b0e4" fill-opacity="0.9" stroke="#58b0e4" stroke-opacity="0.9" stroke-width="0.3"/>
<path d="M240.62,219.06 Q274.50,252.50 298.30,212.20 A46.80,46.80 0 0 0 296.77,211.34 Q274.50,252.50 238.24,221.67 A47.60,47.60 0 0 1 240.62,219.06Z" fill="#58b0e4" fill-opacity="0.9" stroke="#58b0e4" stroke-opacity="0.9" stroke-width="0.3"/>
<path d="M243.67,216.24 Q274.50,252.50 299.79,213.12 A46.80,46.80 0 0 0 298.30,212.20 Q274.50,252.50 242.34,217.41 A47.60,47.60 0 0 1 243.67,216.24Z" fill="#58b0e4" fill-opacity="0.9" stroke="#58b0e4" stroke-opacity="0.9" stroke-width="0.3"/>
<path d="M246.94,213.69 Q274.50,252.50 301.25,214.10 A46.80,46.80 0 0 0 299.79,213.12 Q274.50,252.50 244.14,215.84 A47.60,47.60 0 0 1 246.94,213.69Z" fill="#58b0e4" fill-opacity="0.9" stroke="#58b0e4" stroke-opacity="0.9" stroke-width="0.3"/>
<path d="M250.43,211.43 Q274.50,252.50 302.67,215.13 A46.80,46.80 0 0 0 301.25,214.10 Q274.50,252.50 248.92,212.35 A47.60,47.60 0 0 1 250.43,211.43Z" fill="#58b0e4" fill-opacity="0.9" stroke="#58b0e4" stroke-opacity="0.9" stroke-width="0.3"/>
<path d="M254.10,209.49 Q274.50,252.50 304.05,216.21 A46.80,46.80 0 0 0 302.67,215.13 Q274.50,252.50 253.31,209.88 A47.60,47.60 0 0 1 254.10,209.49Z" fill="#58b0e4" fill-opacity="0.9" stroke="#58b0e4" stroke-opacity="0.9" stroke-width="0.3"/>
<path d="M257.93,207.88 Q274.50,252.50 305.39,217.34 A46.80,46.80 0 0 0 304.05,216.21 Q274.50,252.50 256.28,208.52 A47.60,47.60 0 0 1 257.93,207.88Z" fill="#58b0e4" fill-opacity="0.9" stroke="#58b0e4" stroke-opacity="0.9" stroke-width="0.3"/>
<path d="M265.93,205.68 Q274.50,252.50 306.69,218.53 A46.80,46.80 0 0 0 305.39,217.34 Q274.50,252.50 262.48,206.44 A47.60,47.60 0 0 1 265.93,205.68Z" fill="#58b0e4" fill-opacity="0.9" stroke="#58b0e4" stroke-opacity="0.9" stroke-width="0.3"/>
<path d="M270.04,205.11 Q274.50,252.50 307.94,219.76 A46.80,46.80 0 0 0 306.69,218.53 Q274.50,252.50 266.54,205.57 A47.60,47.60 0 0 1 270.04,205.11Z" fill="#58b0e4" fill-opacity="0.9" stroke="#58b0e4" stroke-opacity="0.9" stroke-width="0.3"/>
<path d="M270.66,299.95 Q274.50,252.50 309.82,221.79 A46.80,46.80 0 0 0 308.50,220.34 Q274.50,252.50 271.84,300.03 A47.60,47.60 0 0 1 270.66,299.95Z" fill="#fbd97c" fill-opacity="0.9" stroke="#fbd97c" stroke-opacity="0.9" stroke-width="0.3"/>
<path d="M258.51,297.33 Q274.50,252.50 311.07,223.29 A46.80,46.80 0 0 0 309.82,221.79 Q274.50,252.50 259.35,297.62 A47.60,47.60 0 0 1 258.51,297.33Z" fill="#fbd97c" fill-opacity="0.9" stroke="#fbd97c" stroke-opacity="0.9" stroke-width="0.3"/>
<path d="M241.06,286.38 Q274.50,252.50 312.25,224.84 A46.80,46.80 0 0 0 311.07,223.29 Q274.50,252.50 242.34,287.59 A47.60,47.60 0 0 1 241.06,286.38Z" fill="#fbd97c" fill-opacity="0.9" stroke="#fbd97c" stroke-opacity="0.9" stroke-width="0.3"/>
<path d="M238.24,283.33 Q274.50,252.50 313.37,226.44 A46.80,46.80 0 0 0 312.25,224.84 Q274.50,252.50 239.01,284.22 A47.60,47.60 0 0 1 238.24,283.33Z" fill="#fbd97c" fill-opacity="0.9" stroke="#fbd97c" stroke-opacity="0.9" stroke-width="0.3"/>
<path d="M232.01,273.96 Q274.50,252.50 314.43,228.09 A46.80,46.80 0 0 0 313.37,226.44 Q274.50,252.50 232.55,275.00 A47.60,47.60 0 0 1 232.01,273.96Z" fill="#fbd97c" fill-opacity="0.9" stroke="#fbd97c" stroke-opacity="0.9" stroke-width="0.3"/>
<path d="M229.10,266.81 Q274.50,252.50 315.41,229.78 A46.80,46.80 0 0 0 314.43,228.09 Q274.50,252.50 229.67,268.49 A47.60,47.60 0 0 1 229.10,266.81Z" fill="#fbd97c" fill-opacity="0.9" stroke="#fbd97c" stroke-opacity="0.9" stroke-width="0.3"/>
<path d="M227.85,261.94 Q274.50,252.50 316.33,231.50 A46.80,46.80 0 0 0 315.41,229.78 Q274.50,252.50 228.03,262.80 A47.60,47.60 0 0 1 227.85,261.94Z" fill="#fbd97c" fill-opacity="0.9" stroke="#fbd97c" stroke-opacity="0.9" stroke-width="0.3"/>
<path d="M227.05,248.66 Q274.50,252.50 317.16,233.27 A46.80,46.80 0 0 0 316.33,231.50 Q274.50,252.50 226.95,250.42 A47.60,47.60 0 0 1 227.05,248.66Z" fill="#fbd97c" fill-opacity="0.9" stroke="#fbd97c" stroke-opacity="0.9" stroke-width="0.3"/>
<path d="M232.55,230.00 Q274.50,252.50 317.93,235.06 A46.80,46.80 0 0 0 317.16,233.27 Q274.50,252.50 232.01,231.04 A47.60,47.60 0 0 1 232.55,230.00Z" fill="#fbd97c" fill-opacity="0.9" stroke="#fbd97c" stroke-opacity="0.9" stroke-width="0.3"/>
<path d="M248.92,212.35 Q274.50,252.50 318.62,236.89 A46.80,46.80 0 0 0 317.93,235.06 Q274.50,252.50 247.45,213.33 A47.60,47.60 0 0 1 248.92,212.35Z" fill="#fbd97c" fill-opacity="0.9" stroke="#fbd97c" stroke-opacity="0.9" stroke-width="0.3"/>
<path d="M253.31,209.88 Q274.50,252.50 319.23,238.75 A46.80,46.80 0 0 0 318.62,236.89 Q274.50,252.50 252.52,210.28 A47.60,47.60 0 0 1 253.31,209.88Z" fill="#fbd97c" fill-opacity="0.9" stroke="#fbd97c" stroke-opacity="0.9" stroke-width="0.3"/>
<path d="M256.28,208.52 Q274.50,252.50 319.77,240.62 A46.80,46.80 0 0 0 319.23,238.75 Q274.50,252.50 254.67,209.23 A47.60,47.60 0 0 1 256.28,208.52Z" fill="#fbd97c" fill-opacity="0.9" stroke="#fbd97c" stroke-opacity="0.9" stroke-width="0.3"/>
<path d="M259.35,297.62 Q274.50,252.50 320.44,243.59 A46.80,46.80 0 0 0 319.97,241.42 Q274.50,252.50 260.19,297.90 A47.60,47.60 0 0 1 259.35,297.62Z" fill="#cbcbcb" fill-opacity="0.9" stroke="#cbcbcb" stroke-opacity="0.9" stroke-width="0.3"/>
<path d="M235.69,280.06 Q274.50,252.50 320.82,245.78 A46.80,46.80 0 0 0 320.44,243.59 Q274.50,252.50 236.38,281.01 A47.60,47.60 0 0 1 235.69,280.06Z" fill="#cbcbcb" fill-opacity="0.9" stroke="#cbcbcb" stroke-opacity="0.9" stroke-width="0.3"/>
<path d="M233.89,277.33 Q274.50,252.50 321.08,247.99 A46.80,46.80 0 0 0 320.82,245.78 Q274.50,252.50 234.35,278.08 A47.60,47.60 0 0 1 233.89,277.33Z" fill="#cbcbcb" fill-opacity="0.9" stroke="#cbcbcb" stroke-opacity="0.9" stroke-width="0.3"/>
<path d="M228.03,262.80 Q274.50,252.50 321.24,250.21 A46.80,46.80 0 0 0 321.08,247.99 Q274.50,252.50 228.23,263.66 A47.60,47.60 0 0 1 228.03,262.80Z" fill="#cbcbcb" fill-opacity="0.9" stroke="#cbcbcb" stroke-opacity="0.9" stroke-width="0.3"/>
<path d="M227.31,258.71 Q274.50,252.50 321.30,252.44 A46.80,46.80 0 0 0 321.24,250.21 Q274.50,252.50 227.57,260.46 A47.60,47.60 0 0 1 227.31,258.71Z" fill="#cbcbcb" fill-opacity="0.9" stroke="#cbcbcb" stroke-opacity="0.9" stroke-width="0.3"/>
<path d="M227.39,245.70 Q274.50,252.50 321.25,254.66 A46.80,46.80 0 0 0 321.30,252.44 Q274.50,252.50 227.23,246.87 A47.60,47.60 0 0 1 227.39,245.70Z" fill="#cbcbcb" fill-opacity="0.9" stroke="#cbcbcb" stroke-opacity="0.9" stroke-width="0.3"/>
<path d="M228.03,242.20 Q274.50,252.50 321.09,256.88 A46.80,46.80 0 0 0 321.25,254.66 Q274.50,252.50 227.68,243.93 A47.60,47.60 0 0 1 228.03,242.20Z" fill="#cbcbcb" fill-opacity="0.9" stroke="#cbcbcb" stroke-opacity="0.9" stroke-width="0.3"/>
<path d="M230.52,234.28 Q274.50,252.50 320.83,259.09 A46.80,46.80 0 0 0 321.09,256.88 Q274.50,252.50 229.88,235.93 A47.60,47.60 0 0 1 230.52,234.28Z" fill="#cbcbcb" fill-opacity="0.9" stroke="#cbcbcb" stroke-opacity="0.9" stroke-width="0.3"/>
<path d="M232.01,231.04 Q274.50,252.50 320.47,261.29 A46.80,46.80 0 0 0 320.83,259.09 Q274.50,252.50 231.49,232.10 A47.60,47.60 0 0 1 232.01,231.04Z" fill="#cbcbcb" fill-opacity="0.9" stroke="#cbcbcb" stroke-opacity="0.9" stroke-width="0.3"/>
<path d="M234.35,226.92 Q274.50,252.50 320.00,263.46 A46.80,46.80 0 0 0 320.47,261.29 Q274.50,252.50 233.43,228.43 A47.60,47.60 0 0 1 234.35,226.92Z" fill="#cbcbcb" fill-opacity="0.9" stroke="#cbcbcb" stroke-opacity="0.9" stroke-width="0.3"/>
<path d="M242.34,217.41 Q274.50,252.50 319.42,265.62 A46.80,46.80 0 0 0 320.00,263.46 Q274.50,252.50 241.06,218.62 A47.60,47.60 0 0 1 242.34,217.41Z" fill="#cbcbcb" fill-opacity="0.9" stroke="#cbcbcb" stroke-opacity="0.9" stroke-width="0.3"/>
<path d="M274.19,204.90 Q274.50,252.50 318.75,267.74 A46.80,46.80 0 0 0 319.42,265.62 Q274.50,252.50 272.42,204.95 A47.60,47.60 0 0 1 274.19,204.90Z" fill="#cbcbcb" fill-opacity="0.9" stroke="#cbcbcb" stroke-opacity="0.9" stroke-width="0.3"/>
<path d="M271.84,300.03 Q274.50,252.50 317.84,270.16 A46.80,46.80 0 0 0 318.48,268.51 Q274.50,252.50 273.01,300.08 A47.60,47.60 0 0 1 271.84,300.03Z" fill="#f6a7a7" fill-opacity="0.9" stroke="#f6a7a7" stroke-opacity="0.9" stroke-width="0.3"/>
<path d="M266.54,299.43 Q274.50,252.50 317.14,271.78 A46.80,46.80 0 0 0 317.84,270.16 Q274.50,252.50 268.29,299.69 A47.60,47.60 0 0 1 266.54,299.43Z" fill="#f6a7a7" fill-opacity="0.9" stroke="#f6a7a7" stroke-opacity="0.9" stroke-width="0.3"/>
<path d="M262.48,298.56 Q274.50,252.50 316.39,273.37 A46.80,46.80 0 0 0 317.14,271.78 Q274.50,252.50 264.20,298.97 A47.60,47.60 0 0 1 262.48,298.56Z" fill="#f6a7a7" fill-opacity="0.9" stroke="#f6a7a7" stroke-opacity="0.9" stroke-width="0.3"/>
<path d="M260.19,297.90 Q274.50,252.50 315.57,274.94 A46.80,46.80 0 0 0 316.39,273.37 Q274.50,252.50 261.03,298.15 A47.60,47.60 0 0 1 260.19,297.90Z" fill="#f6a7a7" fill-opacity="0.9" stroke="#f6a7a7" stroke-opacity="0.9" stroke-width="0.3"/>
<path d="M254.67,295.77 Q274.50,252.50 314.69,276.47 A46.80,46.80 0 0 0 315.57,274.94 Q274.50,252.50 256.28,296.48 A47.60,47.60 0 0 1 254.67,295.77Z" fill="#f6a7a7" fill-opacity="0.9" stroke="#f6a7a7" stroke-opacity="0.9" stroke-width="0.3"/>
<path d="M250.97,293.88 Q274.50,252.50 313.76,277.97 A46.80,46.80 0 0 0 314.69,276.47 Q274.50,252.50 252.52,294.72 A47.60,47.60 0 0 1 250.97,293.88Z" fill="#f6a7a7" fill-opacity="0.9" stroke="#f6a7a7" stroke-opacity="0.9" stroke-width="0.3"/>
<path d="M247.45,291.67 Q274.50,252.50 312.77,279.44 A46.80,46.80 0 0 0 313.76,277.97 Q274.50,252.50 250.43,293.57 A47.60,47.60 0 0 1 247.45,291.67Z" fill="#f6a7a7" fill-opacity="0.9" stroke="#f6a7a7" stroke-opacity="0.9" stroke-width="0.3"/>
<path d="M244.14,289.16 Q274.50,252.50 311.73,280.86 A46.80,46.80 0 0 0 312.77,279.44 Q274.50,252.50 245.52,290.26 A47.60,47.60 0 0 1 244.14,289.16Z" fill="#f6a7a7" fill-opacity="0.9" stroke="#f6a7a7" stroke-opacity="0.9" stroke-width="0.3"/>
<path d="M239.01,284.22 Q274.50,252.50 310.63,282.25 A46.80,46.80 0 0 0 311.73,280.86 Q274.50,252.50 239.81,285.09 A47.60,47.60 0 0 1 239.01,284.22Z" fill="#f6a7a7" fill-opacity="0.9" stroke="#f6a7a7" stroke-opacity="0.9" stroke-width="0.3"/>
<path d="M236.38,281.01 Q274.50,252.50 309.48,283.59 A46.80,46.80 0 0 0 310.63,282.25 Q274.50,252.50 237.10,281.94 A47.60,47.60 0 0 1 236.38,281.01Z" fill="#f6a7a7" fill-opacity="0.9" stroke="#f6a7a7" stroke-opacity="0.9" stroke-width="0.3"/>
<path d="M234.35,278.08 Q274.50,252.50 308.28,284.89 A46.80,46.80 0 0 0 309.48,283.59 Q274.50,252.50 234.84,278.82 A47.60,47.60 0 0 1 234.35,278.08Z" fill="#f6a7a7" fill-opacity="0.9" stroke="#f6a7a7" stroke-opacity="0.9" stroke-width="0.3"/>
<path d="M232.55,275.00 Q274.50,252.50 307.03,286.14 A46.80,46.80 0 0 0 308.28,284.89 Q274.50,252.50 233.12,276.03 A47.60,47.60 0 0 1 232.55,275.00Z" fill="#f6a7a7" fill-opacity="0.9" stroke="#f6a7a7" stroke-opacity="0.9" stroke-width="0.3"/>
<path d="M230.52,270.72 Q274.50,252.50 305.74,287.35 A46.80,46.80 0 0 0 307.03,286.14 Q274.50,252.50 231.23,272.33 A47.60,47.60 0 0 1 230.52,270.72Z" fill="#f6a7a7" fill-opacity="0.9" stroke="#f6a7a7" stroke-opacity="0.9" stroke-width="0.3"/>
<path d="M228.23,263.66 Q274.50,252.50 304.40,288.50 A46.80,46.80 0 0 0 305.74,287.35 Q274.50,252.50 228.44,264.52 A47.60,47.60 0 0 1 228.23,263.66Z" fill="#f6a7a7" fill-opacity="0.9" stroke="#f6a7a7" stroke-opacity="0.9" stroke-width="0.3"/>
<path d="M226.95,254.58 Q274.50,252.50 303.02,289.60 A46.80,46.80 0 0 0 304.40,288.50 Q274.50,252.50 227.05,256.34 A47.60,47.60 0 0 1 226.95,254.58Z" fill="#f6a7a7" fill-opacity="0.9" stroke="#f6a7a7" stroke-opacity="0.9" stroke-width="0.3"/>
<path d="M226.95,250.42 Q274.50,252.50 301.60,290.65 A46.80,46.80 0 0 0 303.02,289.60 Q274.50,252.50 226.90,252.19 A47.60,47.60 0 0 1 226.95,250.42Z" fill="#f6a7a7" fill-opacity="0.9" stroke="#f6a7a7" stroke-opacity="0.9" stroke-width="0.3"/>
<path d="M227.23,246.87 Q274.50,252.50 300.14,291.65 A46.80,46.80 0 0 0 301.60,290.65 Q274.50,252.50 227.11,248.04 A47.60,47.60 0 0 1 227.23,246.87Z" fill="#f6a7a7" fill-opacity="0.9" stroke="#f6a7a7" stroke-opacity="0.9" stroke-width="0.3"/>
<path d="M252.52,210.28 Q274.50,252.50 298.65,292.59 A46.80,46.80 0 0 0 300.14,291.65 Q274.50,252.50 251.74,210.69 A47.60,47.60 0 0 1 252.52,210.28Z" fill="#f6a7a7" fill-opacity="0.9" stroke="#f6a7a7" stroke-opacity="0.9" stroke-width="0.3"/>
<path d="M272.42,204.95 Q274.50,252.50 297.12,293.47 A46.80,46.80 0 0 0 298.65,292.59 Q274.50,252.50 270.66,205.05 A47.60,47.60 0 0 1 272.42,204.95Z" fill="#f6a7a7" fill-opacity="0.9" stroke="#f6a7a7" stroke-opacity="0.9" stroke-width="0.3"/>
<path d="M273.01,300.08 Q274.50,252.50 294.97,294.58 A46.80,46.80 0 0 0 296.40,293.86 Q274.50,252.50 274.19,300.10 A47.60,47.60 0 0 1 273.01,300.08Z" fill="#b6d1f0" fill-opacity="0.9" stroke="#b6d1f0" stroke-opacity="0.9" stroke-width="0.3"/>
<path d="M268.29,299.69 Q274.50,252.50 293.52,295.26 A46.80,46.80 0 0 0 294.97,294.58 Q274.50,252.50 270.04,299.89 A47.60,47.60 0 0 1 268.29,299.69Z" fill="#b6d1f0" fill-opacity="0.9" stroke="#b6d1f0" stroke-opacity="0.9" stroke-width="0.3"/>
<path d="M264.20,298.97 Q274.50,252.50 292.05,295.88 A46.80,46.80 0 0 0 293.52,295.26 Q274.50,252.50 265.93,299.32 A47.60,47.60 0 0 1 264.20,298.97Z" fill="#b6d1f0" fill-opacity="0.9" stroke="#b6d1f0" stroke-opacity="0.9" stroke-width="0.3"/>
<path d="M261.03,298.15 Q274.50,252.50 290.56,296.46 A46.80,46.80 0 0 0 292.05,295.88 Q274.50,252.50 261.88,298.40 A47.60,47.60 0 0 1 261.03,298.15Z" fill="#b6d1f0" fill-opacity="0.9" stroke="#b6d1f0" stroke-opacity="0.9" stroke-width="0.3"/>
<path d="M256.28,296.48 Q274.50,252.50 289.05,296.98 A46.80,46.80 0 0 0 290.56,296.46 Q274.50,252.50 257.93,297.12 A47.60,47.60 0 0 1 256.28,296.48Z" fill="#b6d1f0" fill-opacity="0.9" stroke="#b6d1f0" stroke-opacity="0.9" stroke-width="0.3"/>
<path d="M252.52,294.72 Q274.50,252.50 287.52,297.45 A46.80,46.80 0 0 0 289.05,296.98 Q274.50,252.50 254.10,295.51 A47.60,47.60 0 0 1 252.52,294.72Z" fill="#b6d1f0" fill-opacity="0.9" stroke="#b6d1f0" stroke-opacity="0.9" stroke-width="0.3"/>
<path d="M245.52,290.26 Q274.50,252.50 285.98,297.87 A46.80,46.80 0 0 0 287.52,297.45 Q274.50,252.50 246.94,291.31 A47.60,47.60 0 0 1 245.52,290.26Z" fill="#b6d1f0" fill-opacity="0.9" stroke="#b6d1f0" stroke-opacity="0.9" stroke-width="0.3"/>
<path d="M242.34,287.59 Q274.50,252.50 284.42,298.24 A46.80,46.80 0 0 0 285.98,297.87 Q274.50,252.50 243.67,288.76 A47.60,47.60 0 0 1 242.34,287.59Z" fill="#b6d1f0" fill-opacity="0.9" stroke="#b6d1f0" stroke-opacity="0.9" stroke-width="0.3"/>
<path d="M239.81,285.09 Q274.50,252.50 282.86,298.55 A46.80,46.80 0 0 0 284.42,298.24 Q274.50,252.50 240.62,285.94 A47.60,47.60 0 0 1 239.81,285.09Z" fill="#b6d1f0" fill-opacity="0.9" stroke="#b6d1f0" stroke-opacity="0.9" stroke-width="0.3"/>
<path d="M237.10,281.94 Q274.50,252.50 281.28,298.81 A46.80,46.80 0 0 0 282.86,298.55 Q274.50,252.50 237.84,282.86 A47.60,47.60 0 0 1 237.10,281.94Z" fill="#b6d1f0" fill-opacity="0.9" stroke="#b6d1f0" stroke-opacity="0.9" stroke-width="0.3"/>
<path d="M234.84,278.82 Q274.50,252.50 279.69,299.01 A46.80,46.80 0 0 0 281.28,298.81 Q274.50,252.50 235.33,279.55 A47.60,47.60 0 0 1 234.84,278.82Z" fill="#b6d1f0" fill-opacity="0.9" stroke="#b6d1f0" stroke-opacity="0.9" stroke-width="0.3"/>
<path d="M229.67,236.51 Q274.50,252.50 278.10,299.16 A46.80,46.80 0 0 0 279.69,299.01 Q274.50,252.50 228.60,239.88 A47.60,47.60 0 0 1 229.67,236.51Z" fill="#b6d1f0" fill-opacity="0.9" stroke="#b6d1f0" stroke-opacity="0.9" stroke-width="0.3"/>
<path d="M251.74,210.69 Q274.50,252.50 276.51,299.26 A46.80,46.80 0 0 0 278.10,299.16 Q274.50,252.50 250.97,211.12 A47.60,47.60 0 0 1 251.74,210.69Z" fill="#b6d1f0" fill-opacity="0.9" stroke="#b6d1f0" stroke-opacity="0.9" stroke-width="0.3"/>
<path d="M261.88,206.60 Q274.50,252.50 274.91,299.30 A46.80,46.80 0 0 0 276.51,299.26 Q274.50,252.50 258.51,207.67 A47.60,47.60 0 0 1 261.88,206.60Z" fill="#b6d1f0" fill-opacity="0.9" stroke="#b6d1f0" stroke-opacity="0.9" stroke-width="0.3"/>
<path d="M274.93,202.70 A49.8,49.8 0 0 1 310.08,217.66 L307.94,219.76 A46.8,46.8 0 0 0 274.91,205.70Z" fill="#1565c0" stroke="#444" stroke-width="0.35"/>
<text transform="translate(274.5,252.5) rotate(-66.95)" x="51.60" y="1.4" font-size="4.1" fill="#222" class="g">GO:0005819</text>
<path d="M310.68,218.28 A49.8,49.8 0 0 1 322.67,239.86 L319.77,240.62 A46.8,46.8 0 0 0 308.50,220.34Z" fill="#f0b400" stroke="#444" stroke-width="0.35"/>
<text transform="translate(274.5,252.5) rotate(-29.05)" x="51.60" y="1.4" font-size="4.1" fill="#222" class="g">GO:0072686</text>
<path d="M322.88,240.71 A49.8,49.8 0 0 1 321.59,268.71 L318.75,267.74 A46.8,46.8 0 0 0 319.97,241.42Z" fill="#6e6e6e" stroke="#444" stroke-width="0.35"/>
<text transform="translate(274.5,252.5) rotate(2.65)" x="51.60" y="1.4" font-size="4.1" fill="#222" class="g">GO:0000775</text>
<path d="M321.30,269.53 A49.8,49.8 0 0 1 298.57,296.10 L297.12,293.47 A46.8,46.8 0 0 0 318.48,268.51Z" fill="#e53935" stroke="#444" stroke-width="0.35"/>
<text transform="translate(274.5,252.5) rotate(40.55)" x="51.60" y="1.4" font-size="4.1" fill="#222" class="g">GO:0000793</text>
<path d="M297.80,296.51 A49.8,49.8 0 0 1 274.93,302.30 L274.91,299.30 A46.8,46.8 0 0 0 296.40,293.86Z" fill="#4b8fd6" stroke="#444" stroke-width="0.35"/>
<text transform="translate(274.5,252.5) rotate(75.80)" x="51.60" y="1.4" font-size="4.1" fill="#222" class="g">GO:0000777</text>
<path d="M273.85,202.60 L270.80,202.74 L270.94,204.63 L273.87,204.50Z" fill="#f5b400"/>
<text transform="translate(274.5,252.5) rotate(87.50)" x="-51.50" y="1.35" font-size="4.0" text-anchor="end" fill="#111" class="s">BIRC5</text>
<path d="M269.50,202.85 L266.48,203.25 L266.78,205.12 L269.69,204.74Z" fill="#f5b400"/>
<text transform="translate(274.5,252.5) rotate(82.50)" x="-51.50" y="1.35" font-size="4.0" text-anchor="end" fill="#111" class="s">CCNB1</text>
<path d="M265.19,203.48 L262.22,204.14 L262.68,205.98 L265.55,205.34Z" fill="#f5b400"/>
<text transform="translate(274.5,252.5) rotate(77.50)" x="-51.50" y="1.35" font-size="4.0" text-anchor="end" fill="#111" class="s">CDK1</text>
<path d="M260.96,204.47 L258.05,205.39 L258.67,207.18 L261.47,206.30Z" fill="#f5b400"/>
<text transform="translate(274.5,252.5) rotate(72.50)" x="-51.50" y="1.35" font-size="4.0" text-anchor="end" fill="#111" class="s">CDC20</text>
<path d="M256.82,205.84 L254.01,207.00 L254.79,208.74 L257.49,207.61Z" fill="#f5b400"/>
<text transform="translate(274.5,252.5) rotate(67.50)" x="-51.50" y="1.35" font-size="4.0" text-anchor="end" fill="#111" class="s">CENPF</text>
<path d="M252.82,207.56 L250.12,208.96 L251.05,210.62 L253.65,209.27Z" fill="#f5b400"/>
<text transform="translate(274.5,252.5) rotate(62.50)" x="-51.50" y="1.35" font-size="4.0" text-anchor="end" fill="#111" class="s">KIF2C</text>
<path d="M248.99,209.62 L246.42,211.25 L247.49,212.82 L249.96,211.25Z" fill="#f5b400"/>
<text transform="translate(274.5,252.5) rotate(57.50)" x="-51.50" y="1.35" font-size="4.0" text-anchor="end" fill="#111" class="s">KIF11</text>
<path d="M245.35,212.00 L242.93,213.86 L244.13,215.33 L246.46,213.54Z" fill="#f5b400"/>
<text transform="translate(274.5,252.5) rotate(52.50)" x="-51.50" y="1.35" font-size="4.0" text-anchor="end" fill="#111" class="s">MAD2L1</text>
<path d="M241.93,214.70 L239.68,216.76 L241.01,218.12 L243.17,216.14Z" fill="#f5b400"/>
<text transform="translate(274.5,252.5) rotate(47.50)" x="-51.50" y="1.35" font-size="4.0" text-anchor="end" fill="#111" class="s">MELK</text>
<path d="M238.76,217.68 L236.70,219.93 L238.14,221.17 L240.12,219.01Z" fill="#f5b400"/>
<text transform="translate(274.5,252.5) rotate(42.50)" x="-51.50" y="1.35" font-size="4.0" text-anchor="end" fill="#111" class="s">NCAPG</text>
<path d="M235.86,220.93 L234.00,223.35 L235.54,224.46 L237.33,222.13Z" fill="#1f70cf"/>
<text transform="translate(274.5,252.5) rotate(37.50)" x="-51.50" y="1.35" font-size="4.0" text-anchor="end" fill="#111" class="s">TTK</text>
<path d="M233.25,224.42 L231.62,226.99 L233.25,227.96 L234.82,225.49Z" fill="#1f70cf"/>
<text transform="translate(274.5,252.5) rotate(32.50)" x="-51.50" y="1.35" font-size="4.0" text-anchor="end" fill="#111" class="s">PRC1</text>
<path d="M230.96,228.12 L229.56,230.82 L231.27,231.65 L232.62,229.05Z" fill="#1f70cf"/>
<text transform="translate(274.5,252.5) rotate(27.50)" x="-51.50" y="1.35" font-size="4.0" text-anchor="end" fill="#111" class="s">AURKB</text>
<path d="M229.00,232.01 L227.84,234.82 L229.61,235.49 L230.74,232.79Z" fill="#1f70cf"/>
<text transform="translate(274.5,252.5) rotate(22.50)" x="-51.50" y="1.35" font-size="4.0" text-anchor="end" fill="#111" class="s">KIF23</text>
<path d="M227.39,236.05 L226.47,238.96 L228.30,239.47 L229.18,236.67Z" fill="#1f70cf"/>
<text transform="translate(274.5,252.5) rotate(17.50)" x="-51.50" y="1.35" font-size="4.0" text-anchor="end" fill="#111" class="s">DLGAP5</text>
<path d="M226.14,240.22 L225.48,243.19 L227.34,243.55 L227.98,240.68Z" fill="#1f70cf"/>
<text transform="translate(274.5,252.5) rotate(12.50)" x="-51.50" y="1.35" font-size="4.0" text-anchor="end" fill="#111" class="s">KIF20A</text>
<path d="M225.25,244.48 L224.85,247.50 L226.74,247.69 L227.12,244.78Z" fill="#1f70cf"/>
<text transform="translate(274.5,252.5) rotate(7.50)" x="-51.50" y="1.35" font-size="4.0" text-anchor="end" fill="#111" class="s">TACC3</text>
<path d="M224.74,248.80 L224.60,251.85 L226.50,251.87 L226.63,248.94Z" fill="#1f70cf"/>
<text transform="translate(274.5,252.5) rotate(2.50)" x="-51.50" y="1.35" font-size="4.0" text-anchor="end" fill="#111" class="s">TPX2</text>
<path d="M224.60,253.15 L224.74,256.20 L226.63,256.06 L226.50,253.13Z" fill="#1f70cf"/>
<text transform="translate(274.5,252.5) rotate(-2.50)" x="-51.50" y="1.35" font-size="4.0" text-anchor="end" fill="#111" class="s">KIF4A</text>
<path d="M224.85,257.50 L225.25,260.52 L227.12,260.22 L226.74,257.31Z" fill="#1f70cf"/>
<text transform="translate(274.5,252.5) rotate(-7.50)" x="-51.50" y="1.35" font-size="4.0" text-anchor="end" fill="#111" class="s">ERAP1</text>
<path d="M225.48,261.81 L226.14,264.78 L227.98,264.32 L227.34,261.45Z" fill="#1f70cf"/>
<text transform="translate(274.5,252.5) rotate(-12.50)" x="-51.50" y="1.35" font-size="4.0" text-anchor="end" fill="#111" class="s">NUSAP1</text>
<path d="M226.47,266.04 L227.39,268.95 L229.18,268.33 L228.30,265.53Z" fill="#1f70cf"/>
<text transform="translate(274.5,252.5) rotate(-17.50)" x="-51.50" y="1.35" font-size="4.0" text-anchor="end" fill="#111" class="s">CDCA8</text>
<path d="M227.84,270.18 L229.00,272.99 L230.74,272.21 L229.61,269.51Z" fill="#1f70cf"/>
<text transform="translate(274.5,252.5) rotate(-22.50)" x="-51.50" y="1.35" font-size="4.0" text-anchor="end" fill="#111" class="s">KIF15</text>
<path d="M229.56,274.18 L230.96,276.88 L232.62,275.95 L231.27,273.35Z" fill="#1f70cf"/>
<text transform="translate(274.5,252.5) rotate(-27.50)" x="-51.50" y="1.35" font-size="4.0" text-anchor="end" fill="#111" class="s">KIF18B</text>
<path d="M231.62,278.01 L233.25,280.58 L234.82,279.51 L233.25,277.04Z" fill="#1f70cf"/>
<text transform="translate(274.5,252.5) rotate(-32.50)" x="-51.50" y="1.35" font-size="4.0" text-anchor="end" fill="#111" class="s">SKA1</text>
<path d="M234.00,281.65 L235.86,284.07 L237.33,282.87 L235.54,280.54Z" fill="#f5b400"/>
<text transform="translate(274.5,252.5) rotate(-37.50)" x="-51.50" y="1.35" font-size="4.0" text-anchor="end" fill="#111" class="s">ASPM</text>
<path d="M236.70,285.07 L238.76,287.32 L240.12,285.99 L238.14,283.83Z" fill="#f5b400"/>
<text transform="translate(274.5,252.5) rotate(-42.50)" x="-51.50" y="1.35" font-size="4.0" text-anchor="end" fill="#111" class="s">EZH2</text>
<path d="M239.68,288.24 L241.93,290.30 L243.17,288.86 L241.01,286.88Z" fill="#1f70cf"/>
<text transform="translate(274.5,252.5) rotate(-47.50)" x="-51.50" y="1.35" font-size="4.0" text-anchor="end" fill="#111" class="s">TOP2A</text>
<path d="M242.93,291.14 L245.35,293.00 L246.46,291.46 L244.13,289.67Z" fill="#1f70cf"/>
<text transform="translate(274.5,252.5) rotate(-52.50)" x="-51.50" y="1.35" font-size="4.0" text-anchor="end" fill="#111" class="s">CDCA5</text>
<path d="M246.42,293.75 L248.99,295.38 L249.96,293.75 L247.49,292.18Z" fill="#1f70cf"/>
<text transform="translate(274.5,252.5) rotate(-57.50)" x="-51.50" y="1.35" font-size="4.0" text-anchor="end" fill="#111" class="s">NCAPH</text>
<path d="M250.12,296.04 L252.82,297.44 L253.65,295.73 L251.05,294.38Z" fill="#1f70cf"/>
<text transform="translate(274.5,252.5) rotate(-62.50)" x="-51.50" y="1.35" font-size="4.0" text-anchor="end" fill="#111" class="s">CENPE</text>
<path d="M254.01,298.00 L256.82,299.16 L257.49,297.39 L254.79,296.26Z" fill="#1f70cf"/>
<text transform="translate(274.5,252.5) rotate(-67.50)" x="-51.50" y="1.35" font-size="4.0" text-anchor="end" fill="#111" class="s">CENPI</text>
<path d="M258.05,299.61 L260.96,300.53 L261.47,298.70 L258.67,297.82Z" fill="#1f70cf"/>
<text transform="translate(274.5,252.5) rotate(-72.50)" x="-51.50" y="1.35" font-size="4.0" text-anchor="end" fill="#111" class="s">CEP55</text>
<path d="M262.22,300.86 L265.19,301.52 L265.55,299.66 L262.68,299.02Z" fill="#f5b400"/>
<text transform="translate(274.5,252.5) rotate(-77.50)" x="-51.50" y="1.35" font-size="4.0" text-anchor="end" fill="#111" class="s">CENPU</text>
<path d="M266.48,301.75 L269.50,302.15 L269.69,300.26 L266.78,299.88Z" fill="#f5b400"/>
<text transform="translate(274.5,252.5) rotate(-82.50)" x="-51.50" y="1.35" font-size="4.0" text-anchor="end" fill="#111" class="s">MCM2</text>
<path d="M270.80,302.26 L273.85,302.40 L273.87,300.50 L270.94,300.37Z" fill="#1f70cf"/>
<text transform="translate(274.5,252.5) rotate(-87.50)" x="-51.50" y="1.35" font-size="4.0" text-anchor="end" fill="#111" class="s">RAD51AP1</text>
<text x="337.10" y="182.00" font-size="4.2" text-anchor="start" fill="#333" >logFC</text>
<rect x="337.1" y="183.5" width="5.1" height="24.6" fill="url(#lfc)"/>
<text transform="translate(344.10,187.00) rotate(90)" font-size="3.4" text-anchor="middle" fill="#666">2</text>
<text transform="translate(344.10,191.50) rotate(90)" font-size="3.4" text-anchor="middle" fill="#666">1</text>
<text transform="translate(344.10,196.00) rotate(90)" font-size="3.4" text-anchor="middle" fill="#666">0</text>
<text transform="translate(344.10,200.50) rotate(90)" font-size="3.4" text-anchor="middle" fill="#666">-1</text>
<text transform="translate(344.10,205.00) rotate(90)" font-size="3.4" text-anchor="middle" fill="#666">-2</text>
<text x="387.40" y="186.30" font-size="12.2" text-anchor="start" font-weight="bold" class="b" fill="#000" >F</text>
<text x="465.40" y="185.60" font-size="6.9" text-anchor="start" font-weight="bold" class="b" fill="#111" >MF</text>
<path d="M470.91,205.70 A46.8,46.8 0 0 1 508.55,225.26 L484.32,242.60 A17.0,17.0 0 0 0 470.65,235.50Z" fill="#58b0e4" fill-opacity="0.75"/>
<path d="M509.02,225.92 A46.8,46.8 0 0 1 514.36,268.81 L478.94,255.64 A9.0,9.0 0 0 0 477.91,247.39Z" fill="#fbd97c" fill-opacity="0.75"/>
<path d="M514.07,269.58 A46.8,46.8 0 0 1 503.01,286.17 L476.75,258.97 A9.0,9.0 0 0 0 478.88,255.78Z" fill="#cbcbcb" fill-opacity="0.75"/>
<path d="M502.42,286.73 A46.8,46.8 0 0 1 488.49,295.71 L473.96,260.81 A9.0,9.0 0 0 0 476.64,259.08Z" fill="#f6a7a7" fill-opacity="0.75"/>
<path d="M487.73,296.01 A46.8,46.8 0 0 1 470.91,299.30 L470.65,269.50 A17.0,17.0 0 0 0 476.76,268.31Z" fill="#b6d1f0" fill-opacity="0.75"/>
<path d="M428.55,275.00 Q470.50,252.50 473.50,205.80 A46.80,46.80 0 0 0 470.91,205.70 Q470.50,252.50 429.35,276.42 A47.60,47.60 0 0 1 428.55,275.00Z" fill="#58b0e4" fill-opacity="0.9" stroke="#58b0e4" stroke-opacity="0.9" stroke-width="0.3"/>
<path d="M426.15,269.78 Q470.50,252.50 476.07,206.03 A46.80,46.80 0 0 0 473.50,205.80 Q470.50,252.50 428.15,274.24 A47.60,47.60 0 0 1 426.15,269.78Z" fill="#58b0e4" fill-opacity="0.9" stroke="#58b0e4" stroke-opacity="0.9" stroke-width="0.3"/>
<path d="M424.39,264.31 Q470.50,252.50 478.64,206.41 A46.80,46.80 0 0 0 476.07,206.03 Q470.50,252.50 424.82,265.88 A47.60,47.60 0 0 1 424.39,264.31Z" fill="#58b0e4" fill-opacity="0.9" stroke="#58b0e4" stroke-opacity="0.9" stroke-width="0.3"/>
<path d="M423.30,258.67 Q470.50,252.50 481.17,206.93 A46.80,46.80 0 0 0 478.64,206.41 Q470.50,252.50 423.68,261.08 A47.60,47.60 0 0 1 423.30,258.67Z" fill="#58b0e4" fill-opacity="0.9" stroke="#58b0e4" stroke-opacity="0.9" stroke-width="0.3"/>
<path d="M422.90,252.93 Q470.50,252.50 483.68,207.59 A46.80,46.80 0 0 0 481.17,206.93 Q470.50,252.50 422.99,255.37 A47.60,47.60 0 0 1 422.90,252.93Z" fill="#58b0e4" fill-opacity="0.9" stroke="#58b0e4" stroke-opacity="0.9" stroke-width="0.3"/>
<path d="M423.20,247.19 Q470.50,252.50 486.14,208.39 A46.80,46.80 0 0 0 483.68,207.59 Q470.50,252.50 422.99,249.63 A47.60,47.60 0 0 1 423.20,247.19Z" fill="#58b0e4" fill-opacity="0.9" stroke="#58b0e4" stroke-opacity="0.9" stroke-width="0.3"/>
<path d="M424.18,241.53 Q470.50,252.50 488.56,209.32 A46.80,46.80 0 0 0 486.14,208.39 Q470.50,252.50 423.68,243.92 A47.60,47.60 0 0 1 424.18,241.53Z" fill="#58b0e4" fill-opacity="0.9" stroke="#58b0e4" stroke-opacity="0.9" stroke-width="0.3"/>
<path d="M425.84,236.02 Q470.50,252.50 490.92,210.39 A46.80,46.80 0 0 0 488.56,209.32 Q470.50,252.50 425.06,238.34 A47.60,47.60 0 0 1 425.84,236.02Z" fill="#58b0e4" fill-opacity="0.9" stroke="#58b0e4" stroke-opacity="0.9" stroke-width="0.3"/>
<path d="M428.15,230.76 Q470.50,252.50 493.21,211.58 A46.80,46.80 0 0 0 490.92,210.39 Q470.50,252.50 427.09,232.96 A47.60,47.60 0 0 1 428.15,230.76Z" fill="#58b0e4" fill-opacity="0.9" stroke="#58b0e4" stroke-opacity="0.9" stroke-width="0.3"/>
<path d="M431.08,225.82 Q470.50,252.50 495.44,212.90 A46.80,46.80 0 0 0 493.21,211.58 Q470.50,252.50 429.76,227.87 A47.60,47.60 0 0 1 431.08,225.82Z" fill="#58b0e4" fill-opacity="0.9" stroke="#58b0e4" stroke-opacity="0.9" stroke-width="0.3"/>
<path d="M434.59,221.26 Q470.50,252.50 497.59,214.34 A46.80,46.80 0 0 0 495.44,212.90 Q470.50,252.50 433.54,222.51 A47.60,47.60 0 0 1 434.59,221.26Z" fill="#58b0e4" fill-opacity="0.9" stroke="#58b0e4" stroke-opacity="0.9" stroke-width="0.3"/>
<path d="M438.61,217.16 Q470.50,252.50 499.66,215.90 A46.80,46.80 0 0 0 497.59,214.34 Q470.50,252.50 436.84,218.84 A47.60,47.60 0 0 1 438.61,217.16Z" fill="#58b0e4" fill-opacity="0.9" stroke="#58b0e4" stroke-opacity="0.9" stroke-width="0.3"/>
<path d="M443.11,213.57 Q470.50,252.50 501.64,217.57 A46.80,46.80 0 0 0 499.66,215.90 Q470.50,252.50 441.14,215.03 A47.60,47.60 0 0 1 443.11,213.57Z" fill="#58b0e4" fill-opacity="0.9" stroke="#58b0e4" stroke-opacity="0.9" stroke-width="0.3"/>
<path d="M448.00,210.55 Q470.50,252.50 503.53,219.34 A46.80,46.80 0 0 0 501.64,217.57 Q470.50,252.50 445.87,211.76 A47.60,47.60 0 0 1 448.00,210.55Z" fill="#58b0e4" fill-opacity="0.9" stroke="#58b0e4" stroke-opacity="0.9" stroke-width="0.3"/>
<path d="M453.22,208.15 Q470.50,252.50 505.31,221.22 A46.80,46.80 0 0 0 503.53,219.34 Q470.50,252.50 450.96,209.09 A47.60,47.60 0 0 1 453.22,208.15Z" fill="#58b0e4" fill-opacity="0.9" stroke="#58b0e4" stroke-opacity="0.9" stroke-width="0.3"/>
<path d="M464.33,205.30 Q470.50,252.50 506.99,223.19 A46.80,46.80 0 0 0 505.31,221.22 Q470.50,252.50 461.92,205.68 A47.60,47.60 0 0 1 464.33,205.30Z" fill="#58b0e4" fill-opacity="0.9" stroke="#58b0e4" stroke-opacity="0.9" stroke-width="0.3"/>
<path d="M470.07,204.90 Q470.50,252.50 508.55,225.26 A46.80,46.80 0 0 0 506.99,223.19 Q470.50,252.50 467.63,204.99 A47.60,47.60 0 0 1 470.07,204.90Z" fill="#58b0e4" fill-opacity="0.9" stroke="#58b0e4" stroke-opacity="0.9" stroke-width="0.3"/>
<path d="M431.57,279.89 Q470.50,252.50 510.38,228.02 A46.80,46.80 0 0 0 509.02,225.92 Q470.50,252.50 433.03,281.86 A47.60,47.60 0 0 1 431.57,279.89Z" fill="#fbd97c" fill-opacity="0.9" stroke="#fbd97c" stroke-opacity="0.9" stroke-width="0.3"/>
<path d="M429.35,276.42 Q470.50,252.50 511.63,230.18 A46.80,46.80 0 0 0 510.38,228.02 Q470.50,252.50 430.19,277.82 A47.60,47.60 0 0 1 429.35,276.42Z" fill="#fbd97c" fill-opacity="0.9" stroke="#fbd97c" stroke-opacity="0.9" stroke-width="0.3"/>
<path d="M424.82,265.88 Q470.50,252.50 512.76,232.40 A46.80,46.80 0 0 0 511.63,230.18 Q470.50,252.50 425.30,267.44 A47.60,47.60 0 0 1 424.82,265.88Z" fill="#fbd97c" fill-opacity="0.9" stroke="#fbd97c" stroke-opacity="0.9" stroke-width="0.3"/>
<path d="M423.68,261.08 Q470.50,252.50 513.78,234.68 A46.80,46.80 0 0 0 512.76,232.40 Q470.50,252.50 424.18,263.47 A47.60,47.60 0 0 1 423.68,261.08Z" fill="#fbd97c" fill-opacity="0.9" stroke="#fbd97c" stroke-opacity="0.9" stroke-width="0.3"/>
<path d="M422.99,255.37 Q470.50,252.50 514.66,237.01 A46.80,46.80 0 0 0 513.78,234.68 Q470.50,252.50 423.20,257.81 A47.60,47.60 0 0 1 422.99,255.37Z" fill="#fbd97c" fill-opacity="0.9" stroke="#fbd97c" stroke-opacity="0.9" stroke-width="0.3"/>
<path d="M422.99,249.63 Q470.50,252.50 515.43,239.39 A46.80,46.80 0 0 0 514.66,237.01 Q470.50,252.50 422.90,252.07 A47.60,47.60 0 0 1 422.99,249.63Z" fill="#fbd97c" fill-opacity="0.9" stroke="#fbd97c" stroke-opacity="0.9" stroke-width="0.3"/>
<path d="M423.68,243.92 Q470.50,252.50 516.06,241.80 A46.80,46.80 0 0 0 515.43,239.39 Q470.50,252.50 423.30,246.33 A47.60,47.60 0 0 1 423.68,243.92Z" fill="#fbd97c" fill-opacity="0.9" stroke="#fbd97c" stroke-opacity="0.9" stroke-width="0.3"/>
<path d="M425.06,238.34 Q470.50,252.50 516.57,244.25 A46.80,46.80 0 0 0 516.06,241.80 Q470.50,252.50 424.39,240.69 A47.60,47.60 0 0 1 425.06,238.34Z" fill="#fbd97c" fill-opacity="0.9" stroke="#fbd97c" stroke-opacity="0.9" stroke-width="0.3"/>
<path d="M427.09,232.96 Q470.50,252.50 516.94,246.72 A46.80,46.80 0 0 0 516.57,244.25 Q470.50,252.50 426.15,235.22 A47.60,47.60 0 0 1 427.09,232.96Z" fill="#fbd97c" fill-opacity="0.9" stroke="#fbd97c" stroke-opacity="0.9" stroke-width="0.3"/>
<path d="M429.76,227.87 Q470.50,252.50 517.18,249.20 A46.80,46.80 0 0 0 516.94,246.72 Q470.50,252.50 428.55,230.00 A47.60,47.60 0 0 1 429.76,227.87Z" fill="#fbd97c" fill-opacity="0.9" stroke="#fbd97c" stroke-opacity="0.9" stroke-width="0.3"/>
<path d="M433.54,222.51 Q470.50,252.50 517.29,251.69 A46.80,46.80 0 0 0 517.18,249.20 Q470.50,252.50 432.53,223.79 A47.60,47.60 0 0 1 433.54,222.51Z" fill="#fbd97c" fill-opacity="0.9" stroke="#fbd97c" stroke-opacity="0.9" stroke-width="0.3"/>
<path d="M436.84,218.84 Q470.50,252.50 517.27,254.19 A46.80,46.80 0 0 0 517.29,251.69 Q470.50,252.50 435.16,220.61 A47.60,47.60 0 0 1 436.84,218.84Z" fill="#fbd97c" fill-opacity="0.9" stroke="#fbd97c" stroke-opacity="0.9" stroke-width="0.3"/>
<path d="M441.14,215.03 Q470.50,252.50 517.11,256.68 A46.80,46.80 0 0 0 517.27,254.19 Q470.50,252.50 439.26,216.59 A47.60,47.60 0 0 1 441.14,215.03Z" fill="#fbd97c" fill-opacity="0.9" stroke="#fbd97c" stroke-opacity="0.9" stroke-width="0.3"/>
<path d="M445.87,211.76 Q470.50,252.50 516.82,259.16 A46.80,46.80 0 0 0 517.11,256.68 Q470.50,252.50 443.82,213.08 A47.60,47.60 0 0 1 445.87,211.76Z" fill="#fbd97c" fill-opacity="0.9" stroke="#fbd97c" stroke-opacity="0.9" stroke-width="0.3"/>
<path d="M450.96,209.09 Q470.50,252.50 516.40,261.62 A46.80,46.80 0 0 0 516.82,259.16 Q470.50,252.50 448.76,210.15 A47.60,47.60 0 0 1 450.96,209.09Z" fill="#fbd97c" fill-opacity="0.9" stroke="#fbd97c" stroke-opacity="0.9" stroke-width="0.3"/>
<path d="M458.69,206.39 Q470.50,252.50 515.85,264.05 A46.80,46.80 0 0 0 516.40,261.62 Q470.50,252.50 454.02,207.84 A47.60,47.60 0 0 1 458.69,206.39Z" fill="#fbd97c" fill-opacity="0.9" stroke="#fbd97c" stroke-opacity="0.9" stroke-width="0.3"/>
<path d="M461.92,205.68 Q470.50,252.50 515.17,266.45 A46.80,46.80 0 0 0 515.85,264.05 Q470.50,252.50 459.53,206.18 A47.60,47.60 0 0 1 461.92,205.68Z" fill="#fbd97c" fill-opacity="0.9" stroke="#fbd97c" stroke-opacity="0.9" stroke-width="0.3"/>
<path d="M467.63,204.99 Q470.50,252.50 514.36,268.81 A46.80,46.80 0 0 0 515.17,266.45 Q470.50,252.50 465.19,205.20 A47.60,47.60 0 0 1 467.63,204.99Z" fill="#fbd97c" fill-opacity="0.9" stroke="#fbd97c" stroke-opacity="0.9" stroke-width="0.3"/>
<path d="M433.03,281.86 Q470.50,252.50 511.99,274.15 A46.80,46.80 0 0 0 514.07,269.58 Q470.50,252.50 434.59,283.74 A47.60,47.60 0 0 1 433.03,281.86Z" fill="#cbcbcb" fill-opacity="0.9" stroke="#cbcbcb" stroke-opacity="0.9" stroke-width="0.3"/>
<path d="M430.19,277.82 Q470.50,252.50 509.44,278.47 A46.80,46.80 0 0 0 511.99,274.15 Q470.50,252.50 431.08,279.18 A47.60,47.60 0 0 1 430.19,277.82Z" fill="#cbcbcb" fill-opacity="0.9" stroke="#cbcbcb" stroke-opacity="0.9" stroke-width="0.3"/>
<path d="M425.30,267.44 Q470.50,252.50 506.43,282.49 A46.80,46.80 0 0 0 509.44,278.47 Q470.50,252.50 425.84,268.98 A47.60,47.60 0 0 1 425.30,267.44Z" fill="#cbcbcb" fill-opacity="0.9" stroke="#cbcbcb" stroke-opacity="0.9" stroke-width="0.3"/>
<path d="M432.53,223.79 Q470.50,252.50 503.01,286.17 A46.80,46.80 0 0 0 506.43,282.49 Q470.50,252.50 431.57,225.11 A47.60,47.60 0 0 1 432.53,223.79Z" fill="#cbcbcb" fill-opacity="0.9" stroke="#cbcbcb" stroke-opacity="0.9" stroke-width="0.3"/>
<path d="M465.19,299.80 Q470.50,252.50 500.64,288.31 A46.80,46.80 0 0 0 502.42,286.73 Q470.50,252.50 467.63,300.01 A47.60,47.60 0 0 1 465.19,299.80Z" fill="#f6a7a7" fill-opacity="0.9" stroke="#f6a7a7" stroke-opacity="0.9" stroke-width="0.3"/>
<path d="M459.53,298.82 Q470.50,252.50 498.78,289.79 A46.80,46.80 0 0 0 500.64,288.31 Q470.50,252.50 461.92,299.32 A47.60,47.60 0 0 1 459.53,298.82Z" fill="#f6a7a7" fill-opacity="0.9" stroke="#f6a7a7" stroke-opacity="0.9" stroke-width="0.3"/>
<path d="M454.02,297.16 Q470.50,252.50 496.84,291.18 A46.80,46.80 0 0 0 498.78,289.79 Q470.50,252.50 456.34,297.94 A47.60,47.60 0 0 1 454.02,297.16Z" fill="#f6a7a7" fill-opacity="0.9" stroke="#f6a7a7" stroke-opacity="0.9" stroke-width="0.3"/>
<path d="M448.76,294.85 Q470.50,252.50 494.84,292.47 A46.80,46.80 0 0 0 496.84,291.18 Q470.50,252.50 450.96,295.91 A47.60,47.60 0 0 1 448.76,294.85Z" fill="#f6a7a7" fill-opacity="0.9" stroke="#f6a7a7" stroke-opacity="0.9" stroke-width="0.3"/>
<path d="M443.82,291.92 Q470.50,252.50 492.78,293.66 A46.80,46.80 0 0 0 494.84,292.47 Q470.50,252.50 445.87,293.24 A47.60,47.60 0 0 1 443.82,291.92Z" fill="#f6a7a7" fill-opacity="0.9" stroke="#f6a7a7" stroke-opacity="0.9" stroke-width="0.3"/>
<path d="M439.26,288.41 Q470.50,252.50 490.66,294.74 A46.80,46.80 0 0 0 492.78,293.66 Q470.50,252.50 441.14,289.97 A47.60,47.60 0 0 1 439.26,288.41Z" fill="#f6a7a7" fill-opacity="0.9" stroke="#f6a7a7" stroke-opacity="0.9" stroke-width="0.3"/>
<path d="M435.16,284.39 Q470.50,252.50 488.49,295.71 A46.80,46.80 0 0 0 490.66,294.74 Q470.50,252.50 436.84,286.16 A47.60,47.60 0 0 1 435.16,284.39Z" fill="#f6a7a7" fill-opacity="0.9" stroke="#f6a7a7" stroke-opacity="0.9" stroke-width="0.3"/>
<path d="M467.63,300.01 Q470.50,252.50 485.42,296.86 A46.80,46.80 0 0 0 487.73,296.01 Q470.50,252.50 470.07,300.10 A47.60,47.60 0 0 1 467.63,300.01Z" fill="#b6d1f0" fill-opacity="0.9" stroke="#b6d1f0" stroke-opacity="0.9" stroke-width="0.3"/>
<path d="M461.92,299.32 Q470.50,252.50 483.06,297.58 A46.80,46.80 0 0 0 485.42,296.86 Q470.50,252.50 464.33,299.70 A47.60,47.60 0 0 1 461.92,299.32Z" fill="#b6d1f0" fill-opacity="0.9" stroke="#b6d1f0" stroke-opacity="0.9" stroke-width="0.3"/>
<path d="M456.34,297.94 Q470.50,252.50 480.67,298.18 A46.80,46.80 0 0 0 483.06,297.58 Q470.50,252.50 458.69,298.61 A47.60,47.60 0 0 1 456.34,297.94Z" fill="#b6d1f0" fill-opacity="0.9" stroke="#b6d1f0" stroke-opacity="0.9" stroke-width="0.3"/>
<path d="M450.96,295.91 Q470.50,252.50 478.26,298.65 A46.80,46.80 0 0 0 480.67,298.18 Q470.50,252.50 453.22,296.85 A47.60,47.60 0 0 1 450.96,295.91Z" fill="#b6d1f0" fill-opacity="0.9" stroke="#b6d1f0" stroke-opacity="0.9" stroke-width="0.3"/>
<path d="M445.87,293.24 Q470.50,252.50 475.82,299.00 A46.80,46.80 0 0 0 478.26,298.65 Q470.50,252.50 448.00,294.45 A47.60,47.60 0 0 1 445.87,293.24Z" fill="#b6d1f0" fill-opacity="0.9" stroke="#b6d1f0" stroke-opacity="0.9" stroke-width="0.3"/>
<path d="M441.14,289.97 Q470.50,252.50 473.37,299.21 A46.80,46.80 0 0 0 475.82,299.00 Q470.50,252.50 443.11,291.43 A47.60,47.60 0 0 1 441.14,289.97Z" fill="#b6d1f0" fill-opacity="0.9" stroke="#b6d1f0" stroke-opacity="0.9" stroke-width="0.3"/>
<path d="M436.84,286.16 Q470.50,252.50 470.91,299.30 A46.80,46.80 0 0 0 473.37,299.21 Q470.50,252.50 438.61,287.84 A47.60,47.60 0 0 1 436.84,286.16Z" fill="#b6d1f0" fill-opacity="0.9" stroke="#b6d1f0" stroke-opacity="0.9" stroke-width="0.3"/>
<path d="M470.93,202.70 A49.8,49.8 0 0 1 510.99,223.51 L508.55,225.26 A46.8,46.8 0 0 0 470.91,205.70Z" fill="#1565c0" stroke="#444" stroke-width="0.35"/>
<text transform="translate(470.5,252.5) rotate(-62.55)" x="51.60" y="1.4" font-size="4.1" fill="#222" class="g">GO:0008017</text>
<path d="M511.49,224.22 A49.8,49.8 0 0 1 517.18,269.86 L514.36,268.81 A46.8,46.8 0 0 0 509.02,225.92Z" fill="#f0b400" stroke="#444" stroke-width="0.35"/>
<text transform="translate(470.5,252.5) rotate(-7.10)" x="51.60" y="1.4" font-size="4.1" fill="#222" class="g">GO:0015631</text>
<path d="M516.87,270.67 A49.8,49.8 0 0 1 505.09,288.32 L503.01,286.17 A46.8,46.8 0 0 0 514.07,269.58Z" fill="#6e6e6e" stroke="#444" stroke-width="0.35"/>
<text transform="translate(470.5,252.5) rotate(33.70)" x="51.60" y="1.4" font-size="4.1" fill="#222" class="g">GO:0003777</text>
<path d="M504.46,288.92 A49.8,49.8 0 0 1 489.64,298.48 L488.49,295.71 A46.8,46.8 0 0 0 502.42,286.73Z" fill="#e53935" stroke="#444" stroke-width="0.35"/>
<text transform="translate(470.5,252.5) rotate(57.20)" x="51.60" y="1.4" font-size="4.1" fill="#222" class="g">GO:0008009</text>
<path d="M488.83,298.80 A49.8,49.8 0 0 1 470.93,302.30 L470.91,299.30 A46.8,46.8 0 0 0 487.73,296.01Z" fill="#4b8fd6" stroke="#444" stroke-width="0.35"/>
<text transform="translate(470.5,252.5) rotate(78.95)" x="51.60" y="1.4" font-size="4.1" fill="#222" class="g">GO:0042379</text>
<path d="M469.60,202.61 L465.38,202.86 L465.58,204.75 L469.63,204.51Z" fill="#f5b400"/>
<text transform="translate(470.5,252.5) rotate(86.54)" x="-51.50" y="1.35" font-size="4.0" text-anchor="end" fill="#111" class="s">BIRC5</text>
<path d="M463.59,203.08 L459.44,203.84 L459.86,205.69 L463.85,204.96Z" fill="#f5b400"/>
<text transform="translate(470.5,252.5) rotate(79.62)" x="-51.50" y="1.35" font-size="4.0" text-anchor="end" fill="#111" class="s">CENPF</text>
<path d="M457.68,204.27 L453.65,205.53 L454.30,207.32 L458.17,206.11Z" fill="#f5b400"/>
<text transform="translate(470.5,252.5) rotate(72.69)" x="-51.50" y="1.35" font-size="4.0" text-anchor="end" fill="#111" class="s">KIF11</text>
<path d="M451.96,206.17 L448.11,207.90 L448.97,209.60 L452.67,207.94Z" fill="#f5b400"/>
<text transform="translate(470.5,252.5) rotate(65.77)" x="-51.50" y="1.35" font-size="4.0" text-anchor="end" fill="#111" class="s">CKS2</text>
<path d="M446.51,208.74 L442.90,210.93 L443.95,212.51 L447.43,210.41Z" fill="#f5b400"/>
<text transform="translate(470.5,252.5) rotate(58.85)" x="-51.50" y="1.35" font-size="4.0" text-anchor="end" fill="#111" class="s">MAPT</text>
<path d="M441.41,211.95 L438.09,214.56 L439.33,216.00 L442.52,213.50Z" fill="#1f70cf"/>
<text transform="translate(470.5,252.5) rotate(51.92)" x="-51.50" y="1.35" font-size="4.0" text-anchor="end" fill="#111" class="s">S100A8</text>
<path d="M436.74,215.76 L433.76,218.74 L435.15,220.02 L438.02,217.15Z" fill="#1f70cf"/>
<text transform="translate(470.5,252.5) rotate(45.00)" x="-51.50" y="1.35" font-size="4.0" text-anchor="end" fill="#111" class="s">PRC1</text>
<path d="M432.56,220.09 L429.95,223.41 L431.50,224.52 L434.00,221.33Z" fill="#1f70cf"/>
<text transform="translate(470.5,252.5) rotate(38.08)" x="-51.50" y="1.35" font-size="4.0" text-anchor="end" fill="#111" class="s">KIF23</text>
<path d="M428.93,224.90 L426.74,228.51 L428.41,229.43 L430.51,225.95Z" fill="#1f70cf"/>
<text transform="translate(470.5,252.5) rotate(31.15)" x="-51.50" y="1.35" font-size="4.0" text-anchor="end" fill="#111" class="s">DLGAP5</text>
<path d="M425.90,230.11 L424.17,233.96 L425.94,234.67 L427.60,230.97Z" fill="#1f70cf"/>
<text transform="translate(470.5,252.5) rotate(24.23)" x="-51.50" y="1.35" font-size="4.0" text-anchor="end" fill="#111" class="s">KIF20A</text>
<path d="M423.53,235.65 L422.27,239.68 L424.11,240.17 L425.32,236.30Z" fill="#1f70cf"/>
<text transform="translate(470.5,252.5) rotate(17.31)" x="-51.50" y="1.35" font-size="4.0" text-anchor="end" fill="#111" class="s">TPX2</text>
<path d="M421.84,241.44 L421.08,245.59 L422.96,245.85 L423.69,241.86Z" fill="#1f70cf"/>
<text transform="translate(470.5,252.5) rotate(10.38)" x="-51.50" y="1.35" font-size="4.0" text-anchor="end" fill="#111" class="s">MACF1</text>
<path d="M420.86,247.38 L420.61,251.60 L422.51,251.63 L422.75,247.58Z" fill="#1f70cf"/>
<text transform="translate(470.5,252.5) rotate(3.46)" x="-51.50" y="1.35" font-size="4.0" text-anchor="end" fill="#111" class="s">KIF4A</text>
<path d="M420.61,253.40 L420.86,257.62 L422.75,257.42 L422.51,253.37Z" fill="#1f70cf"/>
<text transform="translate(470.5,252.5) rotate(-3.46)" x="-51.50" y="1.35" font-size="4.0" text-anchor="end" fill="#111" class="s">NUSAP1</text>
<path d="M421.08,259.41 L421.84,263.56 L423.69,263.14 L422.96,259.15Z" fill="#1f70cf"/>
<text transform="translate(470.5,252.5) rotate(-10.38)" x="-51.50" y="1.35" font-size="4.0" text-anchor="end" fill="#111" class="s">CCDC170</text>
<path d="M422.27,265.32 L423.53,269.35 L425.32,268.70 L424.11,264.83Z" fill="#1f70cf"/>
<text transform="translate(470.5,252.5) rotate(-17.31)" x="-51.50" y="1.35" font-size="4.0" text-anchor="end" fill="#111" class="s">KIF18A</text>
<path d="M424.17,271.04 L425.90,274.89 L427.60,274.03 L425.94,270.33Z" fill="#1f70cf"/>
<text transform="translate(470.5,252.5) rotate(-24.23)" x="-51.50" y="1.35" font-size="4.0" text-anchor="end" fill="#111" class="s">KIF18B</text>
<path d="M426.74,276.49 L428.93,280.10 L430.51,279.05 L428.41,275.57Z" fill="#1f70cf"/>
<text transform="translate(470.5,252.5) rotate(-31.15)" x="-51.50" y="1.35" font-size="4.0" text-anchor="end" fill="#111" class="s">SKA1</text>
<path d="M429.95,281.59 L432.56,284.91 L434.00,283.67 L431.50,280.48Z" fill="#f5b400"/>
<text transform="translate(470.5,252.5) rotate(-38.08)" x="-51.50" y="1.35" font-size="4.0" text-anchor="end" fill="#111" class="s">CXCL10</text>
<path d="M433.76,286.26 L436.74,289.24 L438.02,287.85 L435.15,284.98Z" fill="#f5b400"/>
<text transform="translate(470.5,252.5) rotate(-45.00)" x="-51.50" y="1.35" font-size="4.0" text-anchor="end" fill="#111" class="s">CXCL9</text>
<path d="M438.09,290.44 L441.41,293.05 L442.52,291.50 L439.33,289.00Z" fill="#1f70cf"/>
<text transform="translate(470.5,252.5) rotate(-51.92)" x="-51.50" y="1.35" font-size="4.0" text-anchor="end" fill="#111" class="s">CCL5</text>
<path d="M442.90,294.07 L446.51,296.26 L447.43,294.59 L443.95,292.49Z" fill="#1f70cf"/>
<text transform="translate(470.5,252.5) rotate(-58.85)" x="-51.50" y="1.35" font-size="4.0" text-anchor="end" fill="#111" class="s">CCL4</text>
<path d="M448.11,297.10 L451.96,298.83 L452.67,297.06 L448.97,295.40Z" fill="#1f70cf"/>
<text transform="translate(470.5,252.5) rotate(-65.77)" x="-51.50" y="1.35" font-size="4.0" text-anchor="end" fill="#111" class="s">CXCL11</text>
<path d="M453.65,299.47 L457.68,300.73 L458.17,298.89 L454.30,297.68Z" fill="#1f70cf"/>
<text transform="translate(470.5,252.5) rotate(-72.69)" x="-51.50" y="1.35" font-size="4.0" text-anchor="end" fill="#111" class="s">CXCL14</text>
<path d="M459.44,301.16 L463.59,301.92 L463.85,300.04 L459.86,299.31Z" fill="#f5b400"/>
<text transform="translate(470.5,252.5) rotate(-79.62)" x="-51.50" y="1.35" font-size="4.0" text-anchor="end" fill="#111" class="s">CXCL12</text>
<path d="M465.38,302.14 L469.60,302.39 L469.63,300.49 L465.58,300.25Z" fill="#f5b400"/>
<text transform="translate(470.5,252.5) rotate(-86.54)" x="-51.50" y="1.35" font-size="4.0" text-anchor="end" fill="#111" class="s">CXCR6</text>
<text x="533.20" y="182.00" font-size="4.2" text-anchor="start" fill="#333" >logFC</text>
<rect x="533.2" y="183.5" width="5.1" height="24.6" fill="url(#lfc)"/>
<text transform="translate(540.20,187.00) rotate(90)" font-size="3.4" text-anchor="middle" fill="#666">2</text>
<text transform="translate(540.20,191.50) rotate(90)" font-size="3.4" text-anchor="middle" fill="#666">1</text>
<text transform="translate(540.20,196.00) rotate(90)" font-size="3.4" text-anchor="middle" fill="#666">0</text>
<text transform="translate(540.20,200.50) rotate(90)" font-size="3.4" text-anchor="middle" fill="#666">-1</text>
<text transform="translate(540.20,205.00) rotate(90)" font-size="3.4" text-anchor="middle" fill="#666">-2</text>
</svg></body></html>
